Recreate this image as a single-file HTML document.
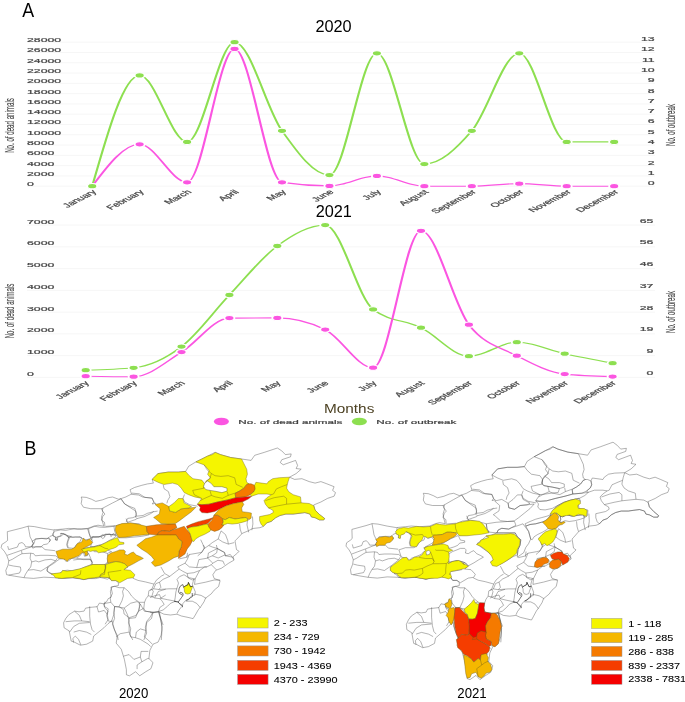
<!DOCTYPE html>
<html><head><meta charset="utf-8"><title>Figure</title>
<style>
html,body{margin:0;padding:0;background:#fff}
svg{display:block}
svg text{font-family:"Liberation Sans",sans-serif}
</style></head><body>
<svg width="685" height="702" viewBox="0 0 685 702">
<rect width="685" height="702" fill="#fff"/>
<line x1="27.0" y1="186.20" x2="655.0" y2="186.20" stroke="#f6f6f6" stroke-width="1"/>
<text transform="translate(27.00,186.10) scale(2.200,1)" font-size="5.60" fill="#4a4a4a" text-anchor="start" stroke="#4a4a4a" stroke-width="0.2">0</text>
<text transform="translate(654.70,185.20) scale(2.200,1)" font-size="5.60" fill="#4a4a4a" text-anchor="end" stroke="#4a4a4a" stroke-width="0.2">0</text>
<line x1="27.0" y1="175.91" x2="655.0" y2="175.91" stroke="#f6f6f6" stroke-width="1"/>
<text transform="translate(27.00,175.81) scale(2.200,1)" font-size="5.60" fill="#4a4a4a" text-anchor="start" stroke="#4a4a4a" stroke-width="0.2">2000</text>
<text transform="translate(654.70,174.91) scale(2.200,1)" font-size="5.60" fill="#4a4a4a" text-anchor="end" stroke="#4a4a4a" stroke-width="0.2">1</text>
<line x1="27.0" y1="165.63" x2="655.0" y2="165.63" stroke="#f6f6f6" stroke-width="1"/>
<text transform="translate(27.00,165.53) scale(2.200,1)" font-size="5.60" fill="#4a4a4a" text-anchor="start" stroke="#4a4a4a" stroke-width="0.2">4000</text>
<text transform="translate(654.70,164.63) scale(2.200,1)" font-size="5.60" fill="#4a4a4a" text-anchor="end" stroke="#4a4a4a" stroke-width="0.2">2</text>
<line x1="27.0" y1="155.34" x2="655.0" y2="155.34" stroke="#f6f6f6" stroke-width="1"/>
<text transform="translate(27.00,155.24) scale(2.200,1)" font-size="5.60" fill="#4a4a4a" text-anchor="start" stroke="#4a4a4a" stroke-width="0.2">6000</text>
<text transform="translate(654.70,154.34) scale(2.200,1)" font-size="5.60" fill="#4a4a4a" text-anchor="end" stroke="#4a4a4a" stroke-width="0.2">3</text>
<line x1="27.0" y1="145.06" x2="655.0" y2="145.06" stroke="#f6f6f6" stroke-width="1"/>
<text transform="translate(27.00,144.96) scale(2.200,1)" font-size="5.60" fill="#4a4a4a" text-anchor="start" stroke="#4a4a4a" stroke-width="0.2">8000</text>
<text transform="translate(654.70,144.06) scale(2.200,1)" font-size="5.60" fill="#4a4a4a" text-anchor="end" stroke="#4a4a4a" stroke-width="0.2">4</text>
<line x1="27.0" y1="134.77" x2="655.0" y2="134.77" stroke="#f6f6f6" stroke-width="1"/>
<text transform="translate(27.00,134.67) scale(2.200,1)" font-size="5.60" fill="#4a4a4a" text-anchor="start" stroke="#4a4a4a" stroke-width="0.2">10000</text>
<text transform="translate(654.70,133.77) scale(2.200,1)" font-size="5.60" fill="#4a4a4a" text-anchor="end" stroke="#4a4a4a" stroke-width="0.2">5</text>
<line x1="27.0" y1="124.49" x2="655.0" y2="124.49" stroke="#f6f6f6" stroke-width="1"/>
<text transform="translate(27.00,124.39) scale(2.200,1)" font-size="5.60" fill="#4a4a4a" text-anchor="start" stroke="#4a4a4a" stroke-width="0.2">12000</text>
<text transform="translate(654.70,123.49) scale(2.200,1)" font-size="5.60" fill="#4a4a4a" text-anchor="end" stroke="#4a4a4a" stroke-width="0.2">6</text>
<line x1="27.0" y1="114.20" x2="655.0" y2="114.20" stroke="#f6f6f6" stroke-width="1"/>
<text transform="translate(27.00,114.10) scale(2.200,1)" font-size="5.60" fill="#4a4a4a" text-anchor="start" stroke="#4a4a4a" stroke-width="0.2">14000</text>
<text transform="translate(654.70,113.20) scale(2.200,1)" font-size="5.60" fill="#4a4a4a" text-anchor="end" stroke="#4a4a4a" stroke-width="0.2">7</text>
<line x1="27.0" y1="103.91" x2="655.0" y2="103.91" stroke="#f6f6f6" stroke-width="1"/>
<text transform="translate(27.00,103.81) scale(2.200,1)" font-size="5.60" fill="#4a4a4a" text-anchor="start" stroke="#4a4a4a" stroke-width="0.2">16000</text>
<text transform="translate(654.70,102.91) scale(2.200,1)" font-size="5.60" fill="#4a4a4a" text-anchor="end" stroke="#4a4a4a" stroke-width="0.2">7</text>
<line x1="27.0" y1="93.63" x2="655.0" y2="93.63" stroke="#f6f6f6" stroke-width="1"/>
<text transform="translate(27.00,93.53) scale(2.200,1)" font-size="5.60" fill="#4a4a4a" text-anchor="start" stroke="#4a4a4a" stroke-width="0.2">18000</text>
<text transform="translate(654.70,92.63) scale(2.200,1)" font-size="5.60" fill="#4a4a4a" text-anchor="end" stroke="#4a4a4a" stroke-width="0.2">8</text>
<line x1="27.0" y1="83.34" x2="655.0" y2="83.34" stroke="#f6f6f6" stroke-width="1"/>
<text transform="translate(27.00,83.24) scale(2.200,1)" font-size="5.60" fill="#4a4a4a" text-anchor="start" stroke="#4a4a4a" stroke-width="0.2">20000</text>
<text transform="translate(654.70,82.34) scale(2.200,1)" font-size="5.60" fill="#4a4a4a" text-anchor="end" stroke="#4a4a4a" stroke-width="0.2">9</text>
<line x1="27.0" y1="73.06" x2="655.0" y2="73.06" stroke="#f6f6f6" stroke-width="1"/>
<text transform="translate(27.00,72.96) scale(2.200,1)" font-size="5.60" fill="#4a4a4a" text-anchor="start" stroke="#4a4a4a" stroke-width="0.2">22000</text>
<text transform="translate(654.70,72.06) scale(2.200,1)" font-size="5.60" fill="#4a4a4a" text-anchor="end" stroke="#4a4a4a" stroke-width="0.2">10</text>
<line x1="27.0" y1="62.77" x2="655.0" y2="62.77" stroke="#f6f6f6" stroke-width="1"/>
<text transform="translate(27.00,62.67) scale(2.200,1)" font-size="5.60" fill="#4a4a4a" text-anchor="start" stroke="#4a4a4a" stroke-width="0.2">24000</text>
<text transform="translate(654.70,61.77) scale(2.200,1)" font-size="5.60" fill="#4a4a4a" text-anchor="end" stroke="#4a4a4a" stroke-width="0.2">11</text>
<line x1="27.0" y1="52.49" x2="655.0" y2="52.49" stroke="#f6f6f6" stroke-width="1"/>
<text transform="translate(27.00,52.39) scale(2.200,1)" font-size="5.60" fill="#4a4a4a" text-anchor="start" stroke="#4a4a4a" stroke-width="0.2">26000</text>
<text transform="translate(654.70,51.49) scale(2.200,1)" font-size="5.60" fill="#4a4a4a" text-anchor="end" stroke="#4a4a4a" stroke-width="0.2">12</text>
<line x1="27.0" y1="42.20" x2="655.0" y2="42.20" stroke="#f6f6f6" stroke-width="1"/>
<text transform="translate(27.00,42.10) scale(2.200,1)" font-size="5.60" fill="#4a4a4a" text-anchor="start" stroke="#4a4a4a" stroke-width="0.2">28000</text>
<text transform="translate(654.70,41.20) scale(2.200,1)" font-size="5.60" fill="#4a4a4a" text-anchor="end" stroke="#4a4a4a" stroke-width="0.2">13</text>
<g transform="scale(1.900,1)">
<path d="M48.53,186.20C56.85,130.82 65.18,75.43 73.50,75.43C81.82,75.43 90.15,141.89 98.47,141.89C106.80,141.89 115.12,42.20 123.45,42.20C131.77,42.20 140.10,108.66 148.42,130.82C156.75,152.97 165.07,175.12 173.39,175.12C181.72,175.12 190.04,53.28 198.37,53.28C206.69,53.28 215.02,164.05 223.34,164.05C231.67,164.05 239.99,149.28 248.32,130.82C256.64,112.35 264.96,53.28 273.29,53.28C281.61,53.28 289.94,141.89 298.26,141.89C306.59,141.89 314.91,141.89 323.24,141.89" fill="none" stroke="#8ddf50" stroke-width="1.15"/>
<path d="M48.53,186.20C56.85,165.24 65.18,144.29 73.50,144.29C81.82,144.29 90.15,182.34 98.47,182.34C106.80,182.34 115.12,48.89 123.45,48.89C131.77,48.89 140.10,179.98 148.42,182.34C156.75,184.71 165.07,185.89 173.39,185.89C181.72,185.89 190.04,175.91 198.37,175.91C206.69,175.91 215.02,186.20 223.34,186.20C231.67,186.20 239.99,186.20 248.32,186.20C256.64,186.20 264.96,183.63 273.29,183.63C281.61,183.63 289.94,186.20 298.26,186.20C306.59,186.20 314.91,186.20 323.24,186.20" fill="none" stroke="#fb55e1" stroke-width="1.15"/>
<circle cx="48.53" cy="186.20" r="2.65" fill="#fb55e1" stroke="#fff" stroke-width="1"/>
<circle cx="73.50" cy="144.29" r="2.65" fill="#fb55e1" stroke="#fff" stroke-width="1"/>
<circle cx="98.47" cy="182.34" r="2.65" fill="#fb55e1" stroke="#fff" stroke-width="1"/>
<circle cx="123.45" cy="48.89" r="2.65" fill="#fb55e1" stroke="#fff" stroke-width="1"/>
<circle cx="148.42" cy="182.34" r="2.65" fill="#fb55e1" stroke="#fff" stroke-width="1"/>
<circle cx="173.39" cy="185.89" r="2.65" fill="#fb55e1" stroke="#fff" stroke-width="1"/>
<circle cx="198.37" cy="175.91" r="2.65" fill="#fb55e1" stroke="#fff" stroke-width="1"/>
<circle cx="223.34" cy="186.20" r="2.65" fill="#fb55e1" stroke="#fff" stroke-width="1"/>
<circle cx="248.32" cy="186.20" r="2.65" fill="#fb55e1" stroke="#fff" stroke-width="1"/>
<circle cx="273.29" cy="183.63" r="2.65" fill="#fb55e1" stroke="#fff" stroke-width="1"/>
<circle cx="298.26" cy="186.20" r="2.65" fill="#fb55e1" stroke="#fff" stroke-width="1"/>
<circle cx="323.24" cy="186.20" r="2.65" fill="#fb55e1" stroke="#fff" stroke-width="1"/>
<circle cx="48.53" cy="186.20" r="2.65" fill="#8ddf50" stroke="#fff" stroke-width="1"/>
<circle cx="73.50" cy="75.43" r="2.65" fill="#8ddf50" stroke="#fff" stroke-width="1"/>
<circle cx="98.47" cy="141.89" r="2.65" fill="#8ddf50" stroke="#fff" stroke-width="1"/>
<circle cx="123.45" cy="42.20" r="2.65" fill="#8ddf50" stroke="#fff" stroke-width="1"/>
<circle cx="148.42" cy="130.82" r="2.65" fill="#8ddf50" stroke="#fff" stroke-width="1"/>
<circle cx="173.39" cy="175.12" r="2.65" fill="#8ddf50" stroke="#fff" stroke-width="1"/>
<circle cx="198.37" cy="53.28" r="2.65" fill="#8ddf50" stroke="#fff" stroke-width="1"/>
<circle cx="223.34" cy="164.05" r="2.65" fill="#8ddf50" stroke="#fff" stroke-width="1"/>
<circle cx="248.32" cy="130.82" r="2.65" fill="#8ddf50" stroke="#fff" stroke-width="1"/>
<circle cx="273.29" cy="53.28" r="2.65" fill="#8ddf50" stroke="#fff" stroke-width="1"/>
<circle cx="298.26" cy="141.89" r="2.65" fill="#8ddf50" stroke="#fff" stroke-width="1"/>
<circle cx="323.24" cy="141.89" r="2.65" fill="#8ddf50" stroke="#fff" stroke-width="1"/>
</g>
<text transform="translate(97.20,192.40) scale(1.900,1) rotate(-45)" font-size="6.20" fill="#4a4a4a" text-anchor="end" stroke="#4a4a4a" stroke-width="0.2">January</text>
<text transform="translate(144.65,192.40) scale(1.900,1) rotate(-45)" font-size="6.20" fill="#4a4a4a" text-anchor="end" stroke="#4a4a4a" stroke-width="0.2">February</text>
<text transform="translate(192.10,192.40) scale(1.900,1) rotate(-45)" font-size="6.20" fill="#4a4a4a" text-anchor="end" stroke="#4a4a4a" stroke-width="0.2">March</text>
<text transform="translate(239.55,192.40) scale(1.900,1) rotate(-45)" font-size="6.20" fill="#4a4a4a" text-anchor="end" stroke="#4a4a4a" stroke-width="0.2">April</text>
<text transform="translate(287.00,192.40) scale(1.900,1) rotate(-45)" font-size="6.20" fill="#4a4a4a" text-anchor="end" stroke="#4a4a4a" stroke-width="0.2">May</text>
<text transform="translate(334.45,192.40) scale(1.900,1) rotate(-45)" font-size="6.20" fill="#4a4a4a" text-anchor="end" stroke="#4a4a4a" stroke-width="0.2">June</text>
<text transform="translate(381.90,192.40) scale(1.900,1) rotate(-45)" font-size="6.20" fill="#4a4a4a" text-anchor="end" stroke="#4a4a4a" stroke-width="0.2">July</text>
<text transform="translate(429.35,192.40) scale(1.900,1) rotate(-45)" font-size="6.20" fill="#4a4a4a" text-anchor="end" stroke="#4a4a4a" stroke-width="0.2">August</text>
<text transform="translate(476.80,192.40) scale(1.900,1) rotate(-45)" font-size="6.20" fill="#4a4a4a" text-anchor="end" stroke="#4a4a4a" stroke-width="0.2">September</text>
<text transform="translate(524.25,192.40) scale(1.900,1) rotate(-45)" font-size="6.20" fill="#4a4a4a" text-anchor="end" stroke="#4a4a4a" stroke-width="0.2">October</text>
<text transform="translate(571.70,192.40) scale(1.900,1) rotate(-45)" font-size="6.20" fill="#4a4a4a" text-anchor="end" stroke="#4a4a4a" stroke-width="0.2">November</text>
<text transform="translate(619.15,192.40) scale(1.900,1) rotate(-45)" font-size="6.20" fill="#4a4a4a" text-anchor="end" stroke="#4a4a4a" stroke-width="0.2">December</text>
<line x1="27.0" y1="377.40" x2="655.0" y2="377.40" stroke="#f6f6f6" stroke-width="1"/>
<text transform="translate(27.00,375.90) scale(2.200,1)" font-size="5.60" fill="#4a4a4a" text-anchor="start" stroke="#4a4a4a" stroke-width="0.2">0</text>
<text transform="translate(653.40,375.00) scale(2.200,1)" font-size="5.60" fill="#4a4a4a" text-anchor="end" stroke="#4a4a4a" stroke-width="0.2">0</text>
<line x1="27.0" y1="355.64" x2="655.0" y2="355.64" stroke="#f6f6f6" stroke-width="1"/>
<text transform="translate(27.00,354.14) scale(2.200,1)" font-size="5.60" fill="#4a4a4a" text-anchor="start" stroke="#4a4a4a" stroke-width="0.2">1000</text>
<text transform="translate(653.40,353.24) scale(2.200,1)" font-size="5.60" fill="#4a4a4a" text-anchor="end" stroke="#4a4a4a" stroke-width="0.2">9</text>
<line x1="27.0" y1="333.89" x2="655.0" y2="333.89" stroke="#f6f6f6" stroke-width="1"/>
<text transform="translate(27.00,332.39) scale(2.200,1)" font-size="5.60" fill="#4a4a4a" text-anchor="start" stroke="#4a4a4a" stroke-width="0.2">2000</text>
<text transform="translate(653.40,331.49) scale(2.200,1)" font-size="5.60" fill="#4a4a4a" text-anchor="end" stroke="#4a4a4a" stroke-width="0.2">19</text>
<line x1="27.0" y1="312.13" x2="655.0" y2="312.13" stroke="#f6f6f6" stroke-width="1"/>
<text transform="translate(27.00,310.63) scale(2.200,1)" font-size="5.60" fill="#4a4a4a" text-anchor="start" stroke="#4a4a4a" stroke-width="0.2">3000</text>
<text transform="translate(653.40,309.73) scale(2.200,1)" font-size="5.60" fill="#4a4a4a" text-anchor="end" stroke="#4a4a4a" stroke-width="0.2">28</text>
<line x1="27.0" y1="290.37" x2="655.0" y2="290.37" stroke="#f6f6f6" stroke-width="1"/>
<text transform="translate(27.00,288.87) scale(2.200,1)" font-size="5.60" fill="#4a4a4a" text-anchor="start" stroke="#4a4a4a" stroke-width="0.2">4000</text>
<text transform="translate(653.40,287.97) scale(2.200,1)" font-size="5.60" fill="#4a4a4a" text-anchor="end" stroke="#4a4a4a" stroke-width="0.2">37</text>
<line x1="27.0" y1="268.61" x2="655.0" y2="268.61" stroke="#f6f6f6" stroke-width="1"/>
<text transform="translate(27.00,267.11) scale(2.200,1)" font-size="5.60" fill="#4a4a4a" text-anchor="start" stroke="#4a4a4a" stroke-width="0.2">5000</text>
<text transform="translate(653.40,266.21) scale(2.200,1)" font-size="5.60" fill="#4a4a4a" text-anchor="end" stroke="#4a4a4a" stroke-width="0.2">46</text>
<line x1="27.0" y1="246.86" x2="655.0" y2="246.86" stroke="#f6f6f6" stroke-width="1"/>
<text transform="translate(27.00,245.36) scale(2.200,1)" font-size="5.60" fill="#4a4a4a" text-anchor="start" stroke="#4a4a4a" stroke-width="0.2">6000</text>
<text transform="translate(653.40,244.46) scale(2.200,1)" font-size="5.60" fill="#4a4a4a" text-anchor="end" stroke="#4a4a4a" stroke-width="0.2">56</text>
<line x1="27.0" y1="225.10" x2="655.0" y2="225.10" stroke="#f6f6f6" stroke-width="1"/>
<text transform="translate(27.00,223.60) scale(2.200,1)" font-size="5.60" fill="#4a4a4a" text-anchor="start" stroke="#4a4a4a" stroke-width="0.2">7000</text>
<text transform="translate(653.40,222.70) scale(2.200,1)" font-size="5.60" fill="#4a4a4a" text-anchor="end" stroke="#4a4a4a" stroke-width="0.2">65</text>
<g transform="scale(1.900,1)">
<path d="M45.11,370.20C53.51,369.80 61.91,369.40 70.32,367.80C78.72,366.20 87.12,358.73 95.53,346.60C103.93,334.47 112.33,311.77 120.74,295.00C129.14,278.23 137.54,257.65 145.95,246.00C154.35,234.35 162.75,225.10 171.16,225.10C179.56,225.10 187.96,297.20 196.37,309.40C204.77,321.60 213.18,319.90 221.58,327.70C229.98,335.50 238.39,356.20 246.79,356.20C255.19,356.20 263.60,342.20 272.00,342.20C280.40,342.20 288.81,350.20 297.21,353.70C305.61,357.20 314.02,360.20 322.42,363.20" fill="none" stroke="#8ddf50" stroke-width="1.15"/>
<path d="M45.11,376.20C53.51,376.45 61.91,376.70 70.32,376.70C78.72,376.70 87.12,361.87 95.53,352.10C103.93,342.33 112.33,318.23 120.74,318.10C129.14,317.97 137.54,317.90 145.95,317.90C154.35,317.90 162.75,321.80 171.16,329.60C179.56,337.40 187.96,367.70 196.37,367.70C204.77,367.70 213.18,230.80 221.58,230.80C229.98,230.80 238.39,304.03 246.79,324.70C255.19,345.37 263.60,347.47 272.00,355.70C280.40,363.93 288.81,372.43 297.21,374.10C305.61,375.77 314.02,376.18 322.42,376.60" fill="none" stroke="#fb55e1" stroke-width="1.15"/>
<circle cx="45.11" cy="376.20" r="2.65" fill="#fb55e1" stroke="#fff" stroke-width="1"/>
<circle cx="70.32" cy="376.70" r="2.65" fill="#fb55e1" stroke="#fff" stroke-width="1"/>
<circle cx="95.53" cy="352.10" r="2.65" fill="#fb55e1" stroke="#fff" stroke-width="1"/>
<circle cx="120.74" cy="318.10" r="2.65" fill="#fb55e1" stroke="#fff" stroke-width="1"/>
<circle cx="145.95" cy="317.90" r="2.65" fill="#fb55e1" stroke="#fff" stroke-width="1"/>
<circle cx="171.16" cy="329.60" r="2.65" fill="#fb55e1" stroke="#fff" stroke-width="1"/>
<circle cx="196.37" cy="367.70" r="2.65" fill="#fb55e1" stroke="#fff" stroke-width="1"/>
<circle cx="221.58" cy="230.80" r="2.65" fill="#fb55e1" stroke="#fff" stroke-width="1"/>
<circle cx="246.79" cy="324.70" r="2.65" fill="#fb55e1" stroke="#fff" stroke-width="1"/>
<circle cx="272.00" cy="355.70" r="2.65" fill="#fb55e1" stroke="#fff" stroke-width="1"/>
<circle cx="297.21" cy="374.10" r="2.65" fill="#fb55e1" stroke="#fff" stroke-width="1"/>
<circle cx="322.42" cy="376.60" r="2.65" fill="#fb55e1" stroke="#fff" stroke-width="1"/>
<circle cx="45.11" cy="370.20" r="2.65" fill="#8ddf50" stroke="#fff" stroke-width="1"/>
<circle cx="70.32" cy="367.80" r="2.65" fill="#8ddf50" stroke="#fff" stroke-width="1"/>
<circle cx="95.53" cy="346.60" r="2.65" fill="#8ddf50" stroke="#fff" stroke-width="1"/>
<circle cx="120.74" cy="295.00" r="2.65" fill="#8ddf50" stroke="#fff" stroke-width="1"/>
<circle cx="145.95" cy="246.00" r="2.65" fill="#8ddf50" stroke="#fff" stroke-width="1"/>
<circle cx="171.16" cy="225.10" r="2.65" fill="#8ddf50" stroke="#fff" stroke-width="1"/>
<circle cx="196.37" cy="309.40" r="2.65" fill="#8ddf50" stroke="#fff" stroke-width="1"/>
<circle cx="221.58" cy="327.70" r="2.65" fill="#8ddf50" stroke="#fff" stroke-width="1"/>
<circle cx="246.79" cy="356.20" r="2.65" fill="#8ddf50" stroke="#fff" stroke-width="1"/>
<circle cx="272.00" cy="342.20" r="2.65" fill="#8ddf50" stroke="#fff" stroke-width="1"/>
<circle cx="297.21" cy="353.70" r="2.65" fill="#8ddf50" stroke="#fff" stroke-width="1"/>
<circle cx="322.42" cy="363.20" r="2.65" fill="#8ddf50" stroke="#fff" stroke-width="1"/>
</g>
<text transform="translate(89.90,383.60) scale(1.900,1) rotate(-45)" font-size="6.20" fill="#4a4a4a" text-anchor="end" stroke="#4a4a4a" stroke-width="0.2">January</text>
<text transform="translate(137.80,383.60) scale(1.900,1) rotate(-45)" font-size="6.20" fill="#4a4a4a" text-anchor="end" stroke="#4a4a4a" stroke-width="0.2">February</text>
<text transform="translate(185.70,383.60) scale(1.900,1) rotate(-45)" font-size="6.20" fill="#4a4a4a" text-anchor="end" stroke="#4a4a4a" stroke-width="0.2">March</text>
<text transform="translate(233.60,383.60) scale(1.900,1) rotate(-45)" font-size="6.20" fill="#4a4a4a" text-anchor="end" stroke="#4a4a4a" stroke-width="0.2">April</text>
<text transform="translate(281.50,383.60) scale(1.900,1) rotate(-45)" font-size="6.20" fill="#4a4a4a" text-anchor="end" stroke="#4a4a4a" stroke-width="0.2">May</text>
<text transform="translate(329.40,383.60) scale(1.900,1) rotate(-45)" font-size="6.20" fill="#4a4a4a" text-anchor="end" stroke="#4a4a4a" stroke-width="0.2">June</text>
<text transform="translate(377.30,383.60) scale(1.900,1) rotate(-45)" font-size="6.20" fill="#4a4a4a" text-anchor="end" stroke="#4a4a4a" stroke-width="0.2">July</text>
<text transform="translate(425.20,383.60) scale(1.900,1) rotate(-45)" font-size="6.20" fill="#4a4a4a" text-anchor="end" stroke="#4a4a4a" stroke-width="0.2">August</text>
<text transform="translate(473.10,383.60) scale(1.900,1) rotate(-45)" font-size="6.20" fill="#4a4a4a" text-anchor="end" stroke="#4a4a4a" stroke-width="0.2">September</text>
<text transform="translate(521.00,383.60) scale(1.900,1) rotate(-45)" font-size="6.20" fill="#4a4a4a" text-anchor="end" stroke="#4a4a4a" stroke-width="0.2">October</text>
<text transform="translate(568.90,383.60) scale(1.900,1) rotate(-45)" font-size="6.20" fill="#4a4a4a" text-anchor="end" stroke="#4a4a4a" stroke-width="0.2">November</text>
<text transform="translate(616.80,383.60) scale(1.900,1) rotate(-45)" font-size="6.20" fill="#4a4a4a" text-anchor="end" stroke="#4a4a4a" stroke-width="0.2">December</text>
<text transform="translate(333.50,32.20)" font-size="16.30" fill="#000" text-anchor="middle">2020</text>
<text transform="translate(333.80,217.20)" font-size="16.30" fill="#000" text-anchor="middle">2021</text>
<text transform="translate(22.20,17.40) scale(0.910,1)" font-size="19.60" fill="#000" text-anchor="start">A</text>
<text transform="translate(24.60,455.00) scale(0.880,1)" font-size="20.30" fill="#000" text-anchor="start">B</text>
<text transform="translate(349.10,413.00) scale(1.140,1)" font-size="13.50" fill="#4a3f20" text-anchor="middle">Months</text>
<text transform="translate(13.60,125.50) rotate(-90) scale(0.5,1)" font-size="12.3" fill="#4a4a4a" stroke="#4a4a4a" stroke-width="0.15" text-anchor="middle">No. of dead animals</text>
<text transform="translate(13.60,311.00) rotate(-90) scale(0.5,1)" font-size="12.3" fill="#4a4a4a" stroke="#4a4a4a" stroke-width="0.15" text-anchor="middle">No. of dead animals</text>
<text transform="translate(675.20,125.00) rotate(-90) scale(0.5,1)" font-size="12.3" fill="#4a4a4a" stroke="#4a4a4a" stroke-width="0.15" text-anchor="middle">No. of outbreak</text>
<text transform="translate(674.80,312.00) rotate(-90) scale(0.5,1)" font-size="12.3" fill="#4a4a4a" stroke="#4a4a4a" stroke-width="0.15" text-anchor="middle">No. of outbreak</text>
<ellipse cx="221.4" cy="421.5" rx="7.5" ry="3.75" fill="#fb55e1"/>
<ellipse cx="359.4" cy="421.5" rx="7.5" ry="3.75" fill="#8ddf50"/>
<text transform="translate(238.20,423.90) scale(1.900,1)" font-size="6.17" fill="#3a3a3a" text-anchor="start" stroke="#4a4a4a" stroke-width="0.2">No. of dead animals</text>
<text transform="translate(376.20,423.90) scale(1.900,1)" font-size="6.17" fill="#3a3a3a" text-anchor="start" stroke="#4a4a4a" stroke-width="0.2">No. of outbreak</text>
<g id="map2020">
<path d="M7.3,531.7L21.9,528.0L28.5,526.1L34.3,526.6L43.8,528.5L53.3,529.9L62.8,529.1L68.8,528.4L77.5,529.1L87.7,528.4L93.6,526.2L98.0,525.2L103.8,526.2L102.3,521.1L101.6,516.7L103.1,512.3L101.6,508.7L90.7,508.7L83.4,507.2L81.2,503.6L81.9,499.2L81.2,497.0L86.3,497.4L91.4,499.2L95.8,501.4L102.3,499.9L108.2,497.7L112.6,497.0L118.4,499.2L121.3,498.5L125.7,497.0L131.5,494.1L130.1,489.7L134.5,487.5L141.8,485.3L147.6,483.9L153.4,483.1L152.1,479.4L158.0,473.6L168.2,472.1L178.4,472.1L185.7,471.4L188.6,466.3L195.9,461.9L201.8,459.0L207.6,456.1L214.9,452.4L215.3,452.4L220.4,454.6L230.7,457.5L241.6,459.0L251.1,460.4L254.7,455.3L264.2,452.4L277.4,448.0L281.8,450.9L285.4,454.6L291.2,453.9L290.5,456.8L281.8,459.7L280.3,462.6L283.2,464.8L295.6,460.4L297.6,465.5L296.1,468.5L301.2,469.2L296.1,473.6L289.5,477.2L294.6,479.4L301.9,478.7L309.2,481.6L315.1,483.1L320.9,481.6L326.8,483.8L334.1,486.7L332.6,490.4L335.5,492.6L334.1,496.2L327.5,498.4L320.9,502.0L313.6,505.0L315.1,510.1L319.5,514.5L324.6,518.5L323.8,519.9L319.5,519.9L315.1,517.7L311.4,517.0L310.0,514.1L304.9,512.6L299.0,513.4L293.2,514.1L285.9,514.1L280.0,515.5L275.7,517.7L271.3,521.4L266.9,522.8L263.2,526.5L259.9,527.7L252.6,528.5L248.2,530.9L242.3,533.3L236.5,539.4L235.0,540.9L236.5,549.6L239.1,551.4L237.6,552.9L233.2,556.6L233.9,560.2L228.8,563.1L224.5,566.1L221.5,568.2L215.7,570.4L212.8,574.8L214.2,578.5L220.1,580.7L218.6,586.5L214.2,590.1L211.3,593.8L205.5,598.2L204.0,601.8L201.1,606.2L198.2,609.9L195.3,615.0L193.1,618.6L188.0,617.4L181.4,616.0L177.0,614.2L170.4,615.0L163.9,614.2L159.5,612.0L160.1,616.6L162.2,626.8L161.2,635.0L158.1,642.1L153.0,644.2L149.9,650.3L148.9,658.5L153.0,662.6L150.9,668.7L145.8,671.7L139.7,675.8L135.6,671.7L129.5,675.8L126.4,674.8L126.4,669.7L124.4,659.5L121.3,649.3L116.2,643.1L117.2,637.0L114.2,628.8L112.1,620.7L108.0,623.7L103.9,627.8L98.8,631.9L93.7,636.0L92.7,641.1L86.6,644.2L80.4,645.2L74.3,642.1L71.2,641.1L69.2,630.9L64.1,627.8L63.6,622.8L65.8,618.4L68.8,614.7L74.6,611.1L79.0,611.8L84.1,611.1L85.5,608.2L89.9,607.4L97.2,606.7L99.4,603.1L103.8,603.8L106.7,601.6L108.2,598.7L111.1,597.2L110.4,591.4L111.8,587.0L118.4,585.5L118.4,582.6L115.9,580.6L111.5,580.6L109.3,577.7L99.9,576.9L94.7,577.7L88.2,578.4L83.8,579.6L79.4,578.4L73.0,577.7L62.8,578.4L54.7,577.7L43.8,577.2L33.6,578.4L24.1,577.7L14.6,576.2L6.6,574.7L5.8,570.4L8.0,565.3L8.8,560.9L6.6,555.0L4.4,551.4L1.2,547.7L1.8,544.5L5.8,541.9L7.6,540.4Z" fill="#fff" stroke="#404040" stroke-width="0.4" stroke-linejoin="round"/>
<path d="M32.0,541.2L35.8,539.1L41.9,538.4L46.4,539.1L48.7,537.7L50.2,539.8L49.4,541.9L47.2,544.0L43.4,544.7L41.1,546.8L35.8,546.8L32.8,548.2L32.0,545.4L33.6,543.3Z" fill="none" stroke="#404040" stroke-width="0.4" stroke-linejoin="round"/>
<path d="M52.4,533.8L55.4,531.0L60.8,529.9L65.7,530.4L74.1,528.7L81.4,529.3L88.6,528.7L94.7,526.3L99.5,527.1L104.3,527.4L114.0,526.3L118.8,524.8L130.0,523.1L139.1,523.8L142.9,526.6L146.6,531.5L148.9,535.0L141.3,536.4L133.8,537.1L126.2,537.8L118.7,537.8L116.4,535.5L114.6,534.9L109.2,534.3L105.6,534.3L100.7,536.6L94.7,537.1L91.7,537.1L89.8,538.8L85.6,540.0L83.8,538.8L81.4,538.3L80.2,541.1L78.4,543.3L76.0,545.0L74.1,548.4L68.1,547.8L67.5,544.4L68.1,541.1L69.3,538.3L67.5,535.5L63.3,533.8L61.5,536.0L57.8,537.1L57.2,540.5L55.4,540.0L56.0,537.1L53.6,536.6Z" fill="none" stroke="#404040" stroke-width="0.4" stroke-linejoin="round"/>
<path d="M91.7,537.1L94.7,537.1L100.7,536.6L105.6,534.3L109.2,534.3L114.6,534.9L115.8,536.6L112.8,538.8L109.2,540.5L105.6,542.8L101.9,544.4L97.1,545.6L93.5,546.7L90.5,546.7L91.7,543.3L92.3,540.5L91.1,538.8Z" fill="none" stroke="#404040" stroke-width="0.4" stroke-linejoin="round"/>
<path d="M47.0,568.5L50.0,565.7L53.6,563.5L56.6,561.2L59.6,559.0L63.9,558.4L65.7,561.2L68.7,560.7L71.7,558.4L76.6,557.9L79.6,556.2L81.4,554.0L83.2,551.7L82.0,549.5L86.2,547.8L93.5,546.7L97.1,546.1L101.9,545.6L106.8,547.2L107.4,550.0L111.6,551.7L107.4,553.4L108.0,557.9L107.4,562.4L106.8,564.6L111.6,562.4L117.6,561.5L120.7,562.9L123.7,565.7L121.7,563.7L127.8,567.2L124.0,569.3L117.2,570.7L109.6,572.1L108.1,574.9L109.2,574.1L110.4,577.5L107.4,579.2L103.1,578.1L100.1,577.5L95.9,578.6L89.8,578.6L83.8,579.2L77.8,578.6L72.9,577.5L65.7,578.1L58.4,578.1L55.4,576.4L53.6,574.1L49.4,573.0L47.0,570.8Z" fill="none" stroke="#404040" stroke-width="0.4" stroke-linejoin="round"/>
<path d="M83.8,552.8L86.8,551.7L88.6,553.4L87.4,555.6L84.4,556.2Z" fill="none" stroke="#404040" stroke-width="0.4" stroke-linejoin="round"/>
<path d="M88.6,528.7L89.2,533.2L90.5,537.1" fill="none" stroke="#404040" stroke-width="0.4" stroke-linejoin="round"/>
<path d="M114.0,526.3L114.6,531.0L116.4,535.5" fill="none" stroke="#404040" stroke-width="0.4" stroke-linejoin="round"/>
<path d="M67.5,535.5L72.9,537.1L80.2,536.6L81.4,538.3" fill="none" stroke="#404040" stroke-width="0.4" stroke-linejoin="round"/>
<path d="M53.6,574.1L59.6,573.6L62.7,570.8L67.5,570.2L71.7,570.8L80.2,569.1L80.8,573.6L77.8,575.8L72.9,577.5" fill="none" stroke="#404040" stroke-width="0.4" stroke-linejoin="round"/>
<path d="M80.2,569.1L85.0,566.9L91.1,564.6L92.3,562.4L90.5,559.6L83.2,559.6L76.6,558.4" fill="none" stroke="#404040" stroke-width="0.4" stroke-linejoin="round"/>
<path d="M91.1,564.6L98.3,564.6L104.9,564.4L107.4,562.4" fill="none" stroke="#404040" stroke-width="0.4" stroke-linejoin="round"/>
<path d="M104.9,564.4L104.3,570.2L104.3,574.1L100.1,577.5" fill="none" stroke="#404040" stroke-width="0.4" stroke-linejoin="round"/>
<path d="M92.3,562.4L89.8,556.2L88.6,553.4" fill="none" stroke="#404040" stroke-width="0.4" stroke-linejoin="round"/>
<path d="M93.5,551.2L94.7,551.7L101.9,551.7L107.4,553.4" fill="none" stroke="#404040" stroke-width="0.4" stroke-linejoin="round"/>
<path d="M28.1,526.1L29.1,531.2L30.1,536.9L31.7,539.9L33.2,543.0L32.7,545.5L31.2,546.8" fill="none" stroke="#404040" stroke-width="0.4" stroke-linejoin="round"/>
<path d="M7.7,546.1L8.7,549.6L17.4,547.1L18.9,543.5L22.0,542.5L24.5,544.5L25.5,546.8L31.2,546.8L34.2,543.0L35.3,538.9L40.9,538.4L48.0,538.4L50.1,536.3L53.1,535.3L54.2,529.7" fill="none" stroke="#404040" stroke-width="0.4" stroke-linejoin="round"/>
<path d="M53.1,535.3L55.7,537.4L55.2,539.4L57.2,539.9L56.7,536.9L60.8,535.8L61.3,533.3L65.4,534.3L68.5,536.9L71.5,536.3" fill="none" stroke="#404040" stroke-width="0.4" stroke-linejoin="round"/>
<path d="M31.2,546.8L41.9,546.8L45.0,549.6L55.2,550.7" fill="none" stroke="#404040" stroke-width="0.4" stroke-linejoin="round"/>
<path d="M49.0,542.0L50.6,539.9L48.0,538.4" fill="none" stroke="#404040" stroke-width="0.4" stroke-linejoin="round"/>
<path d="M7.2,555.3L13.3,553.2L22.0,550.1L31.2,546.8" fill="none" stroke="#404040" stroke-width="0.4" stroke-linejoin="round"/>
<path d="M8.7,560.9L12.3,559.3L18.9,555.3L22.0,553.7L30.7,553.2L33.7,553.7L35.3,555.8L40.9,555.3L48.0,555.3L55.7,555.8L58.2,557.8" fill="none" stroke="#404040" stroke-width="0.4" stroke-linejoin="round"/>
<path d="M21.5,550.7L22.0,553.7" fill="none" stroke="#404040" stroke-width="0.4" stroke-linejoin="round"/>
<path d="M30.7,553.2L30.1,558.3L31.7,561.9L30.7,567.0L28.1,570.1L25.5,574.2L24.0,577.7" fill="none" stroke="#404040" stroke-width="0.4" stroke-linejoin="round"/>
<path d="M31.7,561.9L35.8,560.9L38.8,561.9L45.0,559.9L51.1,559.3L55.7,560.9L57.2,558.3" fill="none" stroke="#404040" stroke-width="0.4" stroke-linejoin="round"/>
<path d="M28.1,570.1L33.7,569.6L40.9,571.1L45.0,568.5L48.0,566.5L55.7,560.9" fill="none" stroke="#404040" stroke-width="0.4" stroke-linejoin="round"/>
<path d="M48.0,566.5L47.0,571.1L51.1,573.6" fill="none" stroke="#404040" stroke-width="0.4" stroke-linejoin="round"/>
<path d="M8.7,565.0L13.3,566.0L20.4,567.0L20.9,570.1L19.4,573.1L13.3,574.2L8.7,575.2" fill="none" stroke="#404040" stroke-width="0.4" stroke-linejoin="round"/>
<path d="M105.0,526.9L104.5,522.3L101.4,520.2L102.9,516.1L105.0,514.1L102.4,511.0L102.9,508.0" fill="none" stroke="#404040" stroke-width="0.4" stroke-linejoin="round"/>
<path d="M87.6,528.9L89.1,533.5L90.7,538.1L91.7,539.6" fill="none" stroke="#404040" stroke-width="0.4" stroke-linejoin="round"/>
<path d="M60.0,533.5L62.6,533.5L65.6,535.0L68.7,537.6L67.7,540.7L66.6,544.7L67.7,547.8" fill="none" stroke="#404040" stroke-width="0.4" stroke-linejoin="round"/>
<path d="M68.7,537.6L75.3,537.1L82.0,537.6" fill="none" stroke="#404040" stroke-width="0.4" stroke-linejoin="round"/>
<path d="M91.7,539.6L92.7,536.6L98.8,537.1L102.9,534.5L105.0,536.6L102.9,538.6L100.9,537.1" fill="none" stroke="#404040" stroke-width="0.4" stroke-linejoin="round"/>
<path d="M105.0,536.6L105.0,535.0L110.1,534.0L111.1,536.6L113.1,533.5L116.2,535.0" fill="none" stroke="#404040" stroke-width="0.4" stroke-linejoin="round"/>
<path d="M73.3,560.1L80.4,559.0L90.1,559.0L91.7,562.1L92.7,564.7" fill="none" stroke="#404040" stroke-width="0.4" stroke-linejoin="round"/>
<path d="M121.1,498.7L112.3,503.1L101.4,508.9" fill="none" stroke="#404040" stroke-width="0.4" stroke-linejoin="round"/>
<path d="M121.1,498.7L124.7,503.8L129.9,507.4L135.7,511.1L136.4,516.2L132.8,517.7L127.7,518.4L126.2,521.3L128.4,522.8" fill="none" stroke="#404040" stroke-width="0.4" stroke-linejoin="round"/>
<path d="M105.8,526.4L115.3,525.7" fill="none" stroke="#404040" stroke-width="0.4" stroke-linejoin="round"/>
<path d="M136.4,516.2L143.0,515.5L147.4,513.3L153.2,511.8L157.6,511.1" fill="none" stroke="#404040" stroke-width="0.4" stroke-linejoin="round"/>
<path d="M131.3,494.3L138.6,495.0L143.0,497.2L151.8,498.0L153.9,502.3L156.1,503.8" fill="none" stroke="#404040" stroke-width="0.4" stroke-linejoin="round"/>
<path d="M131.9,493.1L139.2,493.8L145.0,497.4L152.3,498.2L153.8,501.8L152.3,504.0L155.3,503.3" fill="none" stroke="#404040" stroke-width="0.4" stroke-linejoin="round"/>
<path d="M120.9,498.9L124.6,504.0L129.0,506.2L134.8,508.4L136.3,513.5L135.5,517.2L137.0,518.6L145.0,516.4L150.9,513.5L153.8,511.3" fill="none" stroke="#404040" stroke-width="0.4" stroke-linejoin="round"/>
<path d="M163.3,485.0L164.0,488.7L168.4,491.6L169.9,496.7L167.7,500.4L166.9,503.3" fill="none" stroke="#404040" stroke-width="0.4" stroke-linejoin="round"/>
<path d="M184.5,494.5L183.0,498.2L184.5,501.8L189.6,504.7L197.6,506.2" fill="none" stroke="#404040" stroke-width="0.4" stroke-linejoin="round"/>
<path d="M126.1,518.6L127.5,522.3L136.3,519.3L137.0,518.6" fill="none" stroke="#404040" stroke-width="0.4" stroke-linejoin="round"/>
<path d="M200.7,539.7L202.8,544.1L204.3,548.5L201.4,552.8L197.7,555.8" fill="none" stroke="#404040" stroke-width="0.4" stroke-linejoin="round"/>
<path d="M221.1,530.9L219.6,534.6L218.2,539.0L212.3,542.6L208.7,545.5L206.5,547.0L204.3,548.5" fill="none" stroke="#404040" stroke-width="0.4" stroke-linejoin="round"/>
<path d="M221.1,530.9L225.5,534.6L227.7,540.4L228.4,544.1L234.2,542.6" fill="none" stroke="#404040" stroke-width="0.4" stroke-linejoin="round"/>
<path d="M218.2,539.0L222.6,541.9L228.4,544.1" fill="none" stroke="#404040" stroke-width="0.4" stroke-linejoin="round"/>
<path d="M217.4,548.5L216.7,552.8L212.3,555.8L207.2,558.0" fill="none" stroke="#404040" stroke-width="0.4" stroke-linejoin="round"/>
<path d="M217.4,548.5L212.3,547.0L208.7,545.5" fill="none" stroke="#404040" stroke-width="0.4" stroke-linejoin="round"/>
<path d="M217.4,548.5L224.7,552.8L225.5,555.8L232.8,557.2" fill="none" stroke="#404040" stroke-width="0.4" stroke-linejoin="round"/>
<path d="M212.3,555.8L218.2,558.0L224.7,555.0" fill="none" stroke="#404040" stroke-width="0.4" stroke-linejoin="round"/>
<path d="M187.5,552.8L186.8,558.0" fill="none" stroke="#404040" stroke-width="0.4" stroke-linejoin="round"/>
<path d="M132.8,578.2L138.0,580.4L145.3,581.9L154.0,584.1L156.2,580.4L161.3,576.1L164.2,574.6" fill="none" stroke="#404040" stroke-width="0.4" stroke-linejoin="round"/>
<path d="M154.0,584.1L151.8,589.2L148.9,590.7L148.2,595.8L151.8,596.5L153.3,591.4L151.8,589.2" fill="none" stroke="#404040" stroke-width="0.4" stroke-linejoin="round"/>
<path d="M148.2,595.8L146.0,598.7L144.5,602.3L139.4,602.3L135.0,599.4L131.4,595.8L128.5,591.4L124.1,587.7L122.6,591.4L123.4,595.8L121.9,600.9L119.0,606.7L123.4,609.6L124.1,614.0L129.2,617.7L135.8,615.5L138.7,611.1L139.4,606.7L139.4,602.3" fill="none" stroke="#404040" stroke-width="0.4" stroke-linejoin="round"/>
<path d="M110.9,587.0L114.6,586.3L119.0,587.7L124.1,587.7" fill="none" stroke="#404040" stroke-width="0.4" stroke-linejoin="round"/>
<path d="M110.9,587.0L112.4,593.6L110.2,598.0L110.9,602.3L106.6,603.1L103.6,603.8L105.1,608.2L108.0,611.1L106.6,615.5L108.0,619.9L105.1,624.2" fill="none" stroke="#404040" stroke-width="0.4" stroke-linejoin="round"/>
<path d="M110.9,602.3L114.6,606.7L119.0,606.7" fill="none" stroke="#404040" stroke-width="0.4" stroke-linejoin="round"/>
<path d="M114.6,606.7L113.9,612.6L114.6,618.4L112.4,624.2L114.6,630.1L117.5,635.9L118.2,640.0" fill="none" stroke="#404040" stroke-width="0.4" stroke-linejoin="round"/>
<path d="M144.5,602.3L143.8,608.2L145.3,611.1L152.6,612.6L158.4,611.8L159.9,607.4L164.2,604.5L162.0,600.9L159.9,598.7L154.7,598.0L151.8,596.5" fill="none" stroke="#404040" stroke-width="0.4" stroke-linejoin="round"/>
<path d="M158.4,611.8L159.9,616.2L161.3,622.8L162.0,630.1L161.3,640.0" fill="none" stroke="#404040" stroke-width="0.4" stroke-linejoin="round"/>
<path d="M152.6,612.6L150.4,616.9L146.7,621.3L145.3,627.2L146.7,633.0L143.8,640.0" fill="none" stroke="#404040" stroke-width="0.4" stroke-linejoin="round"/>
<path d="M129.2,617.7L128.5,622.8L130.7,628.6L129.9,634.5L132.8,640.0" fill="none" stroke="#404040" stroke-width="0.4" stroke-linejoin="round"/>
<path d="M138.7,611.1L143.8,608.2" fill="none" stroke="#404040" stroke-width="0.4" stroke-linejoin="round"/>
<path d="M159.9,598.7L165.7,595.0" fill="none" stroke="#404040" stroke-width="0.4" stroke-linejoin="round"/>
<path d="M154.7,598.0L158.4,591.4L165.7,589.2" fill="none" stroke="#404040" stroke-width="0.4" stroke-linejoin="round"/>
<path d="M89.7,606.4L89.7,616.1L90.5,624.1L92.1,629.7L94.5,632.1" fill="none" stroke="#404040" stroke-width="0.4" stroke-linejoin="round"/>
<path d="M65.6,621.7L74.5,620.9L81.7,620.9L89.7,621.7" fill="none" stroke="#404040" stroke-width="0.4" stroke-linejoin="round"/>
<path d="M74.5,611.2L79.3,615.3L81.7,620.9" fill="none" stroke="#404040" stroke-width="0.4" stroke-linejoin="round"/>
<path d="M69.6,632.1L73.7,626.5L79.3,623.3L89.7,622.5" fill="none" stroke="#404040" stroke-width="0.4" stroke-linejoin="round"/>
<path d="M73.7,632.1L79.3,630.5L86.5,632.1L91.3,634.5" fill="none" stroke="#404040" stroke-width="0.4" stroke-linejoin="round"/>
<path d="M73.7,642.6L72.8,638.5L75.3,636.1L78.5,639.3L80.9,645.0" fill="none" stroke="#404040" stroke-width="0.4" stroke-linejoin="round"/>
<path d="M96.9,606.4L98.5,612.0L104.2,610.4L107.4,614.5L108.2,620.9L111.4,621.7" fill="none" stroke="#404040" stroke-width="0.4" stroke-linejoin="round"/>
<path d="M105.0,601.6L104.2,606.4L108.2,608.8L107.4,614.5" fill="none" stroke="#404040" stroke-width="0.4" stroke-linejoin="round"/>
<path d="M114.6,606.4L113.8,614.5L111.4,621.7" fill="none" stroke="#404040" stroke-width="0.4" stroke-linejoin="round"/>
<path d="M114.6,606.4L124.2,608.0L127.4,614.5L129.1,620.9L129.1,631.3L130.7,636.9L135.5,637.7L140.3,639.3L148.3,644.2L150.7,646.6" fill="none" stroke="#404040" stroke-width="0.4" stroke-linejoin="round"/>
<path d="M116.2,636.9L120.2,633.7L129.1,632.1" fill="none" stroke="#404040" stroke-width="0.4" stroke-linejoin="round"/>
<path d="M124.2,608.0L130.7,603.2L137.1,601.6L140.3,604.0L138.7,610.4L135.5,617.7L129.1,618.5" fill="none" stroke="#404040" stroke-width="0.4" stroke-linejoin="round"/>
<path d="M140.3,604.0L144.3,611.2L153.1,612.0L159.6,612.0" fill="none" stroke="#404040" stroke-width="0.4" stroke-linejoin="round"/>
<path d="M153.1,612.0L151.5,618.5L146.7,622.5L145.9,630.5L144.3,636.9L148.3,640.1L152.3,644.2" fill="none" stroke="#404040" stroke-width="0.4" stroke-linejoin="round"/>
<path d="M135.5,637.7L136.3,632.1L140.3,628.9L145.9,630.5" fill="none" stroke="#404040" stroke-width="0.4" stroke-linejoin="round"/>
<path d="M123.4,656.2L129.1,654.6L133.9,659.4L140.3,657.0L141.9,661.8L137.1,665.0L137.1,669.1" fill="none" stroke="#404040" stroke-width="0.4" stroke-linejoin="round"/>
<path d="M140.3,657.0L141.1,651.4L148.3,651.4" fill="none" stroke="#404040" stroke-width="0.4" stroke-linejoin="round"/>
<path d="M141.9,661.8L147.5,658.6L149.1,658.6" fill="none" stroke="#404040" stroke-width="0.4" stroke-linejoin="round"/>
<path d="M177.0,579.5L179.6,576.6L184.0,574.7L186.9,576.6L189.1,577.7L194.2,578.8L193.1,581.7L192.4,584.6L193.8,588.2L195.3,591.9L194.9,595.2L192.0,595.5L190.2,597.4L188.4,599.2L185.4,600.7L182.9,603.6L182.2,606.5L180.7,605.0L178.1,602.1L174.5,601.4L175.2,597.7L175.9,591.9L177.4,586.8L178.5,583.1L177.0,579.5" fill="none" stroke="#404040" stroke-width="0.4" stroke-linejoin="round"/>
<path d="M179.2,558.9L185.8,557.4L189.4,554.5L198.2,553.0L201.8,552.3L204.7,547.2L203.3,545.0" fill="none" stroke="#404040" stroke-width="0.4" stroke-linejoin="round"/>
<path d="M189.4,554.5L187.2,559.6L185.0,563.2L189.4,566.9L196.7,567.6L198.9,559.6L207.7,558.1L212.8,563.2L211.3,564.7L206.9,566.9L196.7,567.6" fill="none" stroke="#404040" stroke-width="0.4" stroke-linejoin="round"/>
<path d="M160.9,566.9L164.6,573.5L169.7,576.4L176.3,571.3L179.2,569.1L177.7,566.9L185.0,563.2" fill="none" stroke="#404040" stroke-width="0.4" stroke-linejoin="round"/>
<path d="M179.2,569.1L182.8,571.3L187.2,573.5L193.8,572.7L199.6,570.5L204.7,566.9L206.9,566.9" fill="none" stroke="#404040" stroke-width="0.4" stroke-linejoin="round"/>
<path d="M211.3,564.7L216.4,569.8" fill="none" stroke="#404040" stroke-width="0.4" stroke-linejoin="round"/>
<path d="M207.7,558.1L208.4,553.0L212.8,550.8L217.2,548.6L216.4,545.0" fill="none" stroke="#404040" stroke-width="0.4" stroke-linejoin="round"/>
<path d="M212.8,563.2L217.9,560.3L223.0,561.1L224.5,564.7" fill="none" stroke="#404040" stroke-width="0.4" stroke-linejoin="round"/>
<path d="M217.2,548.6L224.5,552.3L225.2,555.9L230.3,554.5L233.9,559.6" fill="none" stroke="#404040" stroke-width="0.4" stroke-linejoin="round"/>
<path d="M169.7,576.4L163.1,579.3L159.5,582.2L155.8,583.7L153.6,588.8L150.0,590.3" fill="none" stroke="#404040" stroke-width="0.4" stroke-linejoin="round"/>
<path d="M187.2,573.5L188.0,577.8L192.3,580.0L195.3,578.6L199.6,570.5" fill="none" stroke="#404040" stroke-width="0.4" stroke-linejoin="round"/>
<path d="M195.3,578.6L194.5,584.4L205.5,582.2L214.2,580.0L220.1,580.0" fill="none" stroke="#404040" stroke-width="0.4" stroke-linejoin="round"/>
<path d="M193.8,593.9L201.1,595.4L206.2,598.3" fill="none" stroke="#404040" stroke-width="0.4" stroke-linejoin="round"/>
<path d="M175.5,601.2L167.5,599.7L160.9,598.3L159.5,594.6L155.8,595.4L150.0,597.6" fill="none" stroke="#404040" stroke-width="0.4" stroke-linejoin="round"/>
<path d="M177.0,588.8L169.0,588.8L158.8,589.5L153.6,588.8" fill="none" stroke="#404040" stroke-width="0.4" stroke-linejoin="round"/>
<path d="M159.5,582.2L160.9,587.3L158.8,589.5" fill="none" stroke="#404040" stroke-width="0.4" stroke-linejoin="round"/>
<path d="M175.5,601.2L170.4,603.4L167.5,606.3L163.1,610.0L158.8,611.4L159.5,615.1L161.7,620.9L163.1,625.0" fill="none" stroke="#404040" stroke-width="0.4" stroke-linejoin="round"/>
<path d="M158.8,611.4L152.9,612.9L150.0,612.2" fill="none" stroke="#404040" stroke-width="0.4" stroke-linejoin="round"/>
<path d="M181.4,607.0L178.5,610.7L177.0,613.6" fill="none" stroke="#404040" stroke-width="0.4" stroke-linejoin="round"/>
<path d="M185.8,601.2L192.3,601.2L196.7,603.4L200.4,607.8" fill="none" stroke="#404040" stroke-width="0.4" stroke-linejoin="round"/>
<path d="M239.6,523.9L240.2,529.2L241.7,533.8" fill="none" stroke="#404040" stroke-width="0.4" stroke-linejoin="round"/>
<path d="M247.6,518.6L247.0,524.9L248.7,532.3" fill="none" stroke="#404040" stroke-width="0.4" stroke-linejoin="round"/>
<path d="M252.5,516.5L252.9,523.9L251.9,530.2" fill="none" stroke="#404040" stroke-width="0.4" stroke-linejoin="round"/>
<path d="M55.9,551.4L62.8,549.2L71.5,549.2L75.2,547.0L77.4,543.4L81.8,541.9L83.2,538.2L86.1,540.4L89.8,539.0L92.7,542.6L90.5,544.8L86.1,547.0L83.2,548.5L87.6,551.4L87.6,555.0L85.4,555.8L84.7,552.8L81.8,552.8L78.8,555.8L73.0,558.0L68.6,559.4L67.2,561.6L65.0,559.4L58.4,558.2Z" fill="#f5b800" stroke="#6a5a18" stroke-width="0.4" stroke-linejoin="round"/>
<path d="M81.6,549.2L88.2,547.7L94.0,547.0L99.9,545.5L104.2,543.4L110.1,540.4L117.4,537.5L119.6,541.9L123.9,542.6L123.9,544.1L118.8,544.8L116.6,547.0L113.0,548.5L107.9,549.9L106.4,551.4L98.4,552.8L96.2,550.7L93.3,550.7L90.4,551.4L88.2,550.7L83.8,552.1Z" fill="#f5f500" stroke="#6a5a18" stroke-width="0.4" stroke-linejoin="round"/>
<path d="M107.9,555.0L111.5,552.8L115.9,551.4L119.6,549.9L123.9,549.9L125.4,551.4L124.7,554.3L127.6,555.0L131.2,552.8L133.4,552.1L136.4,555.0L140.0,556.5L143.4,558.4L139.0,560.6L133.4,563.8L127.6,566.7L124.7,563.8L120.3,562.3L115.9,561.6L111.5,562.3L107.9,563.1L107.2,558.7Z" fill="#f5b800" stroke="#6a5a18" stroke-width="0.4" stroke-linejoin="round"/>
<path d="M50.9,574.0L56.1,573.3L61.2,572.6L62.6,570.4L67.0,571.1L72.8,570.4L79.4,568.9L81.6,568.2L88.2,566.0L92.6,564.5L105.0,564.5L105.7,568.2L104.2,572.6L100.6,574.7L99.9,576.9L94.7,577.7L88.2,578.4L83.8,579.6L79.4,578.4L72.8,577.7L67.0,577.7L61.9,578.4L55.3,577.7L53.9,575.5Z" fill="#f5f500" stroke="#6a5a18" stroke-width="0.4" stroke-linejoin="round"/>
<path d="M105.7,564.5L110.1,563.1L115.9,561.6L120.3,562.3L124.7,563.8L127.6,566.7L123.9,569.6L130.5,570.4L134.9,574.7L133.4,577.7L127.6,578.4L119.6,582.8L115.9,580.6L111.5,580.6L109.3,577.7L99.9,576.9L100.6,574.7L104.2,572.6L105.7,568.2Z" fill="#f5f500" stroke="#6a5a18" stroke-width="0.4" stroke-linejoin="round"/>
<path d="M115.9,525.8L121.8,523.6L130.5,522.9L137.5,524.1L146.3,526.3L147.0,531.4L149.2,534.3L143.4,535.0L134.6,535.8L125.8,537.2L118.8,537.5L116.6,533.9L115.2,530.2Z" fill="#f5b800" stroke="#6a5a18" stroke-width="0.4" stroke-linejoin="round"/>
<path d="M146.3,526.3L156.5,524.8L168.2,524.1L175.5,524.1L176.9,527.7L172.6,529.9L169.6,531.4L162.3,530.7L158.7,532.1L157.2,535.0L149.2,534.3L147.0,531.4Z" fill="#f57a00" stroke="#6a5a18" stroke-width="0.4" stroke-linejoin="round"/>
<path d="M172.6,529.9L177.7,528.5L184.2,526.3L186.4,529.2L190.1,533.6L192.3,540.9L190.1,545.3L187.2,548.9L185.0,554.0L178.4,558.4L179.1,551.1L181.3,546.7L182.0,541.6L178.4,538.7L176.2,535.0L170.4,535.0L157.2,535.0L158.7,532.1L162.3,530.7L169.6,531.4Z" fill="#f57a00" stroke="#6a5a18" stroke-width="0.4" stroke-linejoin="round"/>
<path d="M136.8,545.3L141.9,541.6L145.5,538.7L151.4,537.2L157.2,535.0L170.4,535.0L176.2,535.0L178.4,538.7L182.0,541.6L181.3,546.7L179.1,551.1L178.4,556.2L174.0,557.7L168.2,561.3L160.9,565.0L155.0,566.4L151.4,562.8L154.3,559.9L151.4,556.2L147.0,552.6L141.2,548.9Z" fill="#f5b800" stroke="#6a5a18" stroke-width="0.4" stroke-linejoin="round"/>
<path d="M155.0,504.4L162.3,502.9L168.9,506.6L169.6,510.9L175.5,512.4L181.3,508.8L188.6,508.0L195.9,507.3L191.5,511.7L185.7,516.1L179.9,520.4L175.5,523.4L168.2,524.1L160.9,523.4L155.8,519.0L153.6,517.5L159.4,513.9L160.1,508.8Z" fill="#f5b800" stroke="#6a5a18" stroke-width="0.4" stroke-linejoin="round"/>
<path d="M168.9,506.6L174.0,502.9L178.4,498.5L182.8,498.5L184.2,502.9L191.5,506.6L188.6,508.0L181.3,508.8L175.5,512.4L169.6,510.9Z" fill="#f5f500" stroke="#6a5a18" stroke-width="0.4" stroke-linejoin="round"/>
<path d="M186.4,526.3L191.5,524.1L197.4,521.9L203.2,520.4L209.1,519.0L213.4,517.5L207.6,523.4L203.2,524.8L197.4,526.3L191.5,527.0L187.2,528.5Z" fill="#f53d00" stroke="#6a5a18" stroke-width="0.4" stroke-linejoin="round"/>
<path d="M187.2,528.5L191.5,527.0L197.4,526.3L203.2,524.8L207.6,524.1L208.3,525.5L211.2,529.2L209.8,531.4L204.7,534.3L199.6,536.5L195.9,538.7L193.7,541.6L192.3,540.9L190.1,533.6Z" fill="#f5f500" stroke="#6a5a18" stroke-width="0.4" stroke-linejoin="round"/>
<path d="M152.1,479.4L158.0,473.6L168.2,472.1L178.4,472.1L185.7,471.4L188.6,475.0L193.0,478.7L201.8,480.1L204.7,483.8L203.9,488.2L205.8,489.6L210.2,490.4L214.6,491.1L221.9,492.6L220.7,496.2L213.4,496.9L207.6,497.7L201.8,498.4L194.5,496.9L188.6,494.7L184.2,492.6L181.3,488.2L177.7,484.5L172.6,483.1L163.8,484.5L158.0,482.3Z" fill="#f5f500" stroke="#6a5a18" stroke-width="0.4" stroke-linejoin="round"/>
<path d="M195.9,461.9L201.8,459.0L207.6,456.1L212.4,454.6L215.3,452.4L220.4,454.6L230.7,457.5L241.6,459.0L243.8,463.4L246.7,469.2L247.4,474.3L246.0,478.7L246.7,482.3L248.9,483.8L246.7,484.5L243.8,488.2L239.4,491.1L235.0,493.3L235.8,497.7L227.7,499.9L217.5,502.0L208.8,504.2L201.8,504.7L197.4,504.2L201.8,498.4L194.2,494.7L192.7,490.4L203.9,488.2L204.7,483.8L206.1,480.9L210.5,478.0L207.6,474.3L209.1,470.7L206.1,467.0L203.9,464.8Z" fill="#f5f500" stroke="#6a5a18" stroke-width="0.4" stroke-linejoin="round"/>
<path d="M204.4,483.8L207.3,480.9L210.9,483.1L213.9,486.7L221.9,486.7L227.0,488.2L227.0,491.1L221.9,492.6L214.6,491.1L210.2,490.4L205.8,489.6L203.6,486.7Z" fill="#ffffff" stroke="#404040" stroke-width="0.4" stroke-linejoin="round"/>
<path d="M248.9,483.8L251.1,483.8L254.7,485.3L255.5,488.9L254.0,491.8L250.4,494.7L245.3,496.9L235.8,497.7L235.0,493.3L239.4,491.1L243.8,488.2L246.7,484.5Z" fill="#f57a00" stroke="#6a5a18" stroke-width="0.4" stroke-linejoin="round"/>
<path d="M197.4,504.2L201.8,504.7L208.8,504.2L217.5,502.0L227.7,499.9L235.8,497.7L245.3,496.9L251.8,496.2L248.2,499.1L242.3,502.0L233.6,503.5L226.3,505.7L219.0,509.3L214.6,511.5L207.3,513.0L201.8,512.6L199.6,510.1L200.3,507.2Z" fill="#f50000" stroke="#6a5a18" stroke-width="0.4" stroke-linejoin="round"/>
<path d="M255.9,482.3L266.9,483.8L268.4,481.6L272.7,478.7L279.3,477.7L289.5,477.2L288.1,481.6L287.3,484.5L286.6,488.2L288.8,491.8L293.2,494.7L300.5,496.9L301.2,502.8L309.2,503.5L313.6,505.7L315.1,510.1L319.5,514.5L324.6,518.4L323.8,519.9L319.5,519.9L315.1,517.7L311.4,516.9L310.0,514.0L304.9,512.6L299.0,513.3L293.2,514.0L285.9,514.0L280.0,515.5L275.7,517.7L271.3,521.3L266.9,522.8L263.2,526.4L261.1,524.2L259.6,520.6L259.6,516.6L269.8,514.5L273.5,512.3L272.7,510.1L268.4,507.9L265.4,504.2L264.0,500.6L266.9,497.7L271.3,494.7L266.9,494.0L258.1,494.0L251.6,496.2L250.1,494.7L253.8,491.8L255.2,488.9L254.5,485.3Z" fill="#f5f500" stroke="#6a5a18" stroke-width="0.4" stroke-linejoin="round"/>
<path d="M213.9,515.3L219.0,509.5L226.3,505.8L233.6,503.6L242.3,501.8L243.8,504.4L241.6,508.0L242.3,511.7L248.2,512.4L251.4,513.1L251.1,518.2L248.9,519.7L246.0,517.5L240.9,518.2L235.0,519.0L229.2,517.5L225.5,519.7L222.6,519.0L220.4,516.8L217.5,515.3Z" fill="#f5b800" stroke="#6a5a18" stroke-width="0.4" stroke-linejoin="round"/>
<path d="M213.9,515.3L217.5,515.3L220.4,516.8L222.6,519.0L223.4,521.9L221.9,524.8L224.1,524.8L221.9,527.7L219.0,529.9L214.6,531.4L210.9,529.9L208.8,527.0L208.0,524.1L211.7,520.4L213.1,517.5Z" fill="#f57a00" stroke="#6a5a18" stroke-width="0.4" stroke-linejoin="round"/>
<path d="M222.6,519.0L225.5,519.7L229.2,517.5L235.0,519.0L240.9,518.2L246.0,517.5L248.2,520.4L243.8,521.9L238.0,523.4L232.1,524.1L227.7,523.4L224.1,524.8L221.9,524.8L223.4,521.9Z" fill="#f5f500" stroke="#6a5a18" stroke-width="0.4" stroke-linejoin="round"/>
<path d="M183.6,587.2L185.8,585.7L188.0,584.6L188.4,582.4L189.5,584.6L190.5,586.8L192.7,586.1L192.0,588.2L190.9,591.2L190.2,593.4L187.6,594.1L185.4,593.4L184.3,591.2L184.3,589.0Z" fill="#f5f500" stroke="#6a5a18" stroke-width="0.4" stroke-linejoin="round"/>
<path d="M99.3,545.3L105.0,548.3L108.0,548.8" fill="none" stroke="#6a5a18" stroke-width="0.4" stroke-linejoin="round"/>
<path d="M80.9,570.3L80.4,574.4L72.8,577.4" fill="none" stroke="#6a5a18" stroke-width="0.4" stroke-linejoin="round"/>
<path d="M105.5,564.2L105.0,570.3L104.5,574.4L100.4,575.4" fill="none" stroke="#6a5a18" stroke-width="0.4" stroke-linejoin="round"/>
<path d="M108.0,572.3L115.2,571.3L121.3,570.3" fill="none" stroke="#6a5a18" stroke-width="0.4" stroke-linejoin="round"/>
<path d="M108.0,572.3L110.1,579.5" fill="none" stroke="#6a5a18" stroke-width="0.4" stroke-linejoin="round"/>
<path d="M204.1,464.7L207.0,469.8L211.4,473.5L215.0,475.7L220.9,476.4L228.2,475.7L234.7,477.8L236.2,484.4L242.8,487.3" fill="none" stroke="#6a5a18" stroke-width="0.4" stroke-linejoin="round"/>
<path d="M211.4,473.5L209.9,478.6L206.3,481.5" fill="none" stroke="#6a5a18" stroke-width="0.4" stroke-linejoin="round"/>
<path d="M209.9,490.3L211.4,495.4L215.0,496.8L222.3,498.3L228.2,495.4L227.4,491.7" fill="none" stroke="#6a5a18" stroke-width="0.4" stroke-linejoin="round"/>
<path d="M211.4,495.4L204.8,498.3L200.4,500.5" fill="none" stroke="#6a5a18" stroke-width="0.4" stroke-linejoin="round"/>
<path d="M228.2,495.4L234.7,493.2" fill="none" stroke="#6a5a18" stroke-width="0.4" stroke-linejoin="round"/>
<path d="M287.3,484.5L281.5,486.7L276.4,488.9L273.5,494.0L271.3,494.7" fill="none" stroke="#6a5a18" stroke-width="0.4" stroke-linejoin="round"/>
<path d="M265.4,500.6L274.2,497.7L283.7,496.2L286.6,498.4L286.6,504.2L301.2,502.8" fill="none" stroke="#6a5a18" stroke-width="0.4" stroke-linejoin="round"/>
<path d="M268.4,507.9L278.6,505.7L286.6,504.2" fill="none" stroke="#6a5a18" stroke-width="0.4" stroke-linejoin="round"/>
<path d="M174.5,601.4L177.8,601.8L179.6,603.6L182.2,605.4L182.5,607.2" fill="none" stroke="#1a1a1a" stroke-width="0.6" stroke-linejoin="round"/>
<path d="M181.4,597.7L182.9,595.5L181.8,594.8L179.6,593.4L180.7,592.3L182.9,593.4L183.2,595.2" fill="none" stroke="#1a1a1a" stroke-width="0.6" stroke-linejoin="round"/>
<path d="M186.2,600.3L188.4,599.6L190.5,597.7L192.4,596.6L192.2,593.0" fill="none" stroke="#1a1a1a" stroke-width="0.6" stroke-linejoin="round"/>
<path d="M178.1,602.1L180.3,599.2L181.4,597.7" fill="none" stroke="#1a1a1a" stroke-width="0.6" stroke-linejoin="round"/>
<path d="M179.2,588.2L180.7,585.7L182.9,584.6L183.6,587.2" fill="none" stroke="#1a1a1a" stroke-width="0.6" stroke-linejoin="round"/>
<path d="M179.2,588.2L178.5,591.9L179.6,593.4" fill="none" stroke="#1a1a1a" stroke-width="0.6" stroke-linejoin="round"/>
<path d="M183.6,587.2L185.8,585.7L188.0,584.6L188.4,582.4L189.5,584.6L190.5,586.8L192.7,586.1" fill="none" stroke="#1a1a1a" stroke-width="0.6" stroke-linejoin="round"/>
</g>
<g id="map2021">
<path d="M351.9,529.4L366.0,525.6L372.4,523.6L378.0,524.1L387.2,526.1L396.4,527.6L405.5,526.7L411.3,526.0L419.8,526.7L429.7,526.0L435.3,523.7L439.6,522.6L445.2,523.7L443.8,518.4L443.1,513.8L444.5,509.3L443.1,505.5L432.5,505.5L425.4,503.9L423.3,500.1L424.0,495.6L423.3,493.3L428.3,493.7L433.2,495.6L437.4,497.8L443.8,496.3L449.4,494.0L453.7,493.3L459.3,495.6L462.1,494.8L466.4,493.3L472.0,490.2L470.6,485.7L474.8,483.4L481.9,481.1L487.5,479.6L493.2,478.8L491.9,475.0L497.6,468.9L507.4,467.3L517.3,467.3L524.4,466.6L527.2,461.3L534.2,456.7L539.9,453.7L545.5,450.6L552.6,446.8L553.0,446.8L557.9,449.1L567.8,452.1L578.4,453.7L587.6,455.2L591.1,449.9L600.3,446.8L613.0,442.2L617.2,445.3L620.7,449.1L626.4,448.3L625.7,451.4L617.2,454.4L615.8,457.5L618.6,459.7L630.6,455.2L632.5,460.5L631.1,463.5L636.0,464.3L631.1,468.9L624.7,472.7L629.7,475.0L636.7,474.2L643.8,477.2L649.4,478.8L655.1,477.2L660.7,479.5L667.8,482.6L666.4,486.4L669.2,488.6L667.8,492.4L661.4,494.7L655.1,498.5L648.0,501.6L649.4,506.9L653.7,511.5L658.6,515.6L657.9,517.2L653.7,517.2L649.4,514.9L645.9,514.1L644.5,511.1L639.5,509.6L633.9,510.3L628.3,511.1L621.2,511.1L615.6,512.6L611.3,514.9L607.1,518.7L602.9,520.2L599.3,524.0L596.0,525.3L589.0,526.1L584.8,528.6L579.1,531.1L573.5,537.5L572.1,539.0L573.5,548.1L576.0,549.9L574.5,551.5L570.3,555.3L571.0,559.1L566.1,562.2L561.8,565.2L559.0,567.5L553.4,569.8L550.5,574.4L551.9,578.2L557.6,580.4L556.2,586.5L551.9,590.3L549.1,594.1L543.5,598.7L542.1,602.5L539.2,607.1L536.4,610.9L533.6,616.2L531.5,620.0L526.5,618.8L520.2,617.3L516.0,615.4L509.6,616.2L503.3,615.4L499.0,613.1L499.7,617.9L501.6,628.5L500.7,637.0L497.7,644.5L492.8,646.6L489.8,653.0L488.8,661.5L492.8,665.8L490.8,672.2L485.8,675.4L479.9,679.6L476.0,675.4L470.0,679.6L467.1,678.6L467.1,673.2L465.1,662.6L462.1,651.9L457.2,645.5L458.2,639.2L455.2,630.6L453.2,622.1L449.3,625.3L445.3,629.6L440.4,633.8L435.5,638.1L434.5,643.4L428.5,646.6L422.6,647.7L416.7,644.5L413.7,643.4L411.8,632.8L406.8,629.6L406.4,624.3L408.5,619.8L411.3,616.0L417.0,612.2L421.2,612.9L426.1,612.2L427.6,609.1L431.8,608.4L438.8,607.6L441.0,603.8L445.2,604.6L448.0,602.3L449.4,599.2L452.3,597.7L451.5,591.6L453.0,587.1L459.3,585.5L459.3,582.5L456.9,580.4L452.7,580.4L450.6,577.3L441.4,576.6L436.5,577.3L430.1,578.1L425.9,579.3L421.6,578.1L415.4,577.3L405.5,578.1L397.8,577.3L387.2,576.9L377.3,578.1L368.2,577.3L359.0,575.8L351.2,574.3L350.5,569.7L352.6,564.4L353.3,559.8L351.2,553.7L349.1,549.9L346.0,546.1L346.6,542.8L350.5,540.1L352.2,538.5Z" fill="#fff" stroke="#404040" stroke-width="0.4" stroke-linejoin="round"/>
<path d="M398.9,549.9L405.5,547.7L414.0,547.7L417.5,545.4L419.7,541.6L423.9,540.1L425.3,536.3L428.1,538.5L431.7,537.0L434.5,540.8L432.4,543.1L428.1,545.4L425.3,546.9L429.5,549.9L429.5,553.7L427.4,554.5L426.7,551.5L423.9,551.5L421.1,554.5L415.4,556.8L411.2,558.3L409.8,560.6L407.7,558.3L401.3,557.1Z" fill="none" stroke="#404040" stroke-width="0.4" stroke-linejoin="round"/>
<path d="M423.8,547.7L430.1,546.1L435.7,545.4L441.4,543.9L445.6,541.6L451.3,538.5L458.3,535.5L460.4,540.1L464.7,540.8L464.7,542.3L459.7,543.1L457.6,545.4L454.1,546.9L449.1,548.4L447.7,549.9L440.0,551.5L437.9,549.2L435.0,549.2L432.2,549.9L430.1,549.2L425.9,550.7Z" fill="none" stroke="#404040" stroke-width="0.4" stroke-linejoin="round"/>
<path d="M449.1,553.7L452.7,551.5L456.9,549.9L460.4,548.4L464.7,548.4L466.1,549.9L465.4,553.0L468.2,553.7L471.7,551.5L473.8,550.7L476.7,553.7L480.2,555.3L483.4,557.2L479.2,559.5L473.8,562.9L468.2,565.9L465.4,562.9L461.1,561.4L456.9,560.6L452.7,561.4L449.1,562.1L448.4,557.6Z" fill="none" stroke="#404040" stroke-width="0.4" stroke-linejoin="round"/>
<path d="M394.1,573.5L399.1,572.8L404.0,572.0L405.4,569.7L409.6,570.5L415.3,569.7L421.6,568.2L423.8,567.4L430.1,565.2L434.3,563.6L446.3,563.6L447.0,567.4L445.6,572.0L442.1,574.3L441.4,576.6L436.5,577.3L430.1,578.1L425.9,579.3L421.6,578.1L415.3,577.3L409.6,577.3L404.7,578.1L398.4,577.3L396.9,575.0Z" fill="none" stroke="#404040" stroke-width="0.4" stroke-linejoin="round"/>
<path d="M447.0,563.6L451.3,562.1L456.9,560.6L461.1,561.4L465.4,562.9L468.2,565.9L464.7,569.0L471.0,569.7L475.3,574.3L473.8,577.3L468.2,578.1L460.4,582.7L456.9,580.4L452.7,580.4L450.6,577.3L441.4,576.6L442.1,574.3L445.6,572.0L447.0,567.4Z" fill="none" stroke="#404040" stroke-width="0.4" stroke-linejoin="round"/>
<path d="M456.9,523.3L462.6,521.0L471.0,520.3L477.8,521.5L486.3,523.8L487.0,529.1L489.1,532.1L483.4,532.9L475.0,533.7L466.5,535.2L459.7,535.5L457.6,531.7L456.2,527.9Z" fill="none" stroke="#404040" stroke-width="0.4" stroke-linejoin="round"/>
<path d="M486.3,523.8L496.1,522.3L507.4,521.5L514.5,521.5L515.9,525.3L511.7,527.6L508.8,529.1L501.8,528.3L498.3,529.9L496.8,532.9L489.1,532.1L487.0,529.1Z" fill="none" stroke="#404040" stroke-width="0.4" stroke-linejoin="round"/>
<path d="M511.7,527.6L516.6,526.1L523.0,523.8L525.1,526.8L528.6,531.4L530.7,539.0L528.6,543.6L525.8,547.4L523.7,552.7L517.3,557.2L518.0,549.6L520.1,545.1L520.8,539.8L517.3,536.7L515.2,532.9L509.5,532.9L496.8,532.9L498.3,529.9L501.8,528.3L508.8,529.1Z" fill="none" stroke="#404040" stroke-width="0.4" stroke-linejoin="round"/>
<path d="M477.1,543.6L482.0,539.8L485.6,536.7L491.2,535.2L496.8,532.9L509.5,532.9L515.2,532.9L517.3,536.7L520.8,539.8L520.1,545.1L518.0,549.6L517.3,555.0L513.1,556.5L507.4,560.3L500.4,564.1L494.7,565.6L491.2,561.8L494.0,558.8L491.2,555.0L487.0,551.2L481.3,547.4Z" fill="none" stroke="#404040" stroke-width="0.4" stroke-linejoin="round"/>
<path d="M494.7,501.0L501.8,499.4L508.1,503.2L508.8,507.8L514.5,509.3L520.1,505.5L527.2,504.8L534.2,504.0L530.0,508.6L524.4,513.1L518.7,517.7L514.5,520.7L507.4,521.5L500.4,520.7L495.4,516.2L493.3,514.7L499.0,510.9L499.7,505.5Z" fill="none" stroke="#404040" stroke-width="0.4" stroke-linejoin="round"/>
<path d="M508.1,503.2L513.1,499.4L517.3,494.9L521.5,494.9L523.0,499.4L530.0,503.2L527.2,504.8L520.1,505.5L514.5,509.3L508.8,507.8Z" fill="none" stroke="#404040" stroke-width="0.4" stroke-linejoin="round"/>
<path d="M525.1,523.8L530.0,521.5L535.7,519.2L541.3,517.7L546.9,516.2L551.2,514.7L545.5,520.7L541.3,522.3L535.7,523.8L530.0,524.5L525.8,526.1Z" fill="none" stroke="#404040" stroke-width="0.4" stroke-linejoin="round"/>
<path d="M525.8,526.1L530.0,524.5L535.7,523.8L541.3,522.3L545.5,521.5L546.2,523.0L549.1,526.8L547.6,529.1L542.7,532.1L537.8,534.4L534.2,536.7L532.1,539.8L530.7,539.0L528.6,531.4Z" fill="none" stroke="#404040" stroke-width="0.4" stroke-linejoin="round"/>
<path d="M491.9,475.0L497.6,468.9L507.4,467.3L517.3,467.3L524.4,466.6L527.2,470.4L531.4,474.2L539.9,475.7L542.7,479.5L542.0,484.1L543.8,485.6L548.1,486.4L552.3,487.1L559.4,488.6L558.2,492.4L551.2,493.2L545.5,494.0L539.9,494.7L532.8,493.2L527.2,490.9L523.0,488.6L520.1,484.1L516.6,480.3L511.7,478.8L503.2,480.3L497.6,478.0Z" fill="none" stroke="#404040" stroke-width="0.4" stroke-linejoin="round"/>
<path d="M534.2,456.7L539.9,453.7L545.5,450.6L550.2,449.1L553.0,446.8L557.9,449.1L567.8,452.1L578.4,453.7L580.5,458.2L583.3,464.3L584.1,469.6L582.6,474.2L583.3,478.0L585.5,479.5L583.3,480.3L580.5,484.1L576.3,487.1L572.1,489.4L572.8,494.0L565.0,496.2L555.1,498.5L546.7,500.8L539.9,501.3L535.7,500.8L539.9,494.7L532.5,490.9L531.1,486.4L542.0,484.1L542.7,479.5L544.1,476.5L548.3,473.4L545.5,469.6L546.9,465.8L544.1,462.0L542.0,459.7Z" fill="none" stroke="#404040" stroke-width="0.4" stroke-linejoin="round"/>
<path d="M542.4,479.5L545.2,476.5L548.8,478.8L551.6,482.6L559.4,482.6L564.3,484.1L564.3,487.1L559.4,488.6L552.3,487.1L548.1,486.4L543.8,485.6L541.7,482.6Z" fill="none" stroke="#404040" stroke-width="0.4" stroke-linejoin="round"/>
<path d="M585.5,479.5L587.6,479.5L591.1,481.0L591.8,484.8L590.4,487.9L586.9,490.9L581.9,493.2L572.8,494.0L572.1,489.4L576.3,487.1L580.5,484.1L583.3,480.3Z" fill="none" stroke="#404040" stroke-width="0.4" stroke-linejoin="round"/>
<path d="M535.7,500.8L539.9,501.3L546.7,500.8L555.1,498.5L565.0,496.2L572.8,494.0L581.9,493.2L588.3,492.4L584.8,495.5L579.1,498.5L570.6,500.1L563.6,502.3L556.5,506.1L552.3,508.4L545.2,509.9L539.9,509.5L537.8,506.9L538.5,503.9Z" fill="none" stroke="#404040" stroke-width="0.4" stroke-linejoin="round"/>
<path d="M592.3,478.0L602.9,479.5L604.3,477.2L608.5,474.2L614.8,473.1L624.7,472.7L623.3,477.2L622.6,480.3L621.9,484.1L624.0,487.9L628.3,490.9L635.3,493.2L636.0,499.3L643.8,500.1L648.0,502.3L649.4,506.9L653.7,511.5L658.6,515.6L657.9,517.1L653.7,517.1L649.4,514.8L645.9,514.0L644.5,511.0L639.5,509.5L633.9,510.2L628.3,511.0L621.2,511.0L615.6,512.5L611.3,514.8L607.1,518.6L602.9,520.1L599.3,523.9L597.2,521.7L595.8,517.8L595.8,513.7L605.7,511.5L609.2,509.2L608.5,506.9L604.3,504.6L601.4,500.8L600.0,497.0L602.9,494.0L607.1,490.9L602.9,490.2L594.4,490.2L588.0,492.4L586.6,490.9L590.2,487.9L591.6,484.8L590.9,481.0Z" fill="none" stroke="#404040" stroke-width="0.4" stroke-linejoin="round"/>
<path d="M551.6,512.4L556.5,506.3L563.6,502.5L570.6,500.2L579.1,498.2L580.5,501.0L578.4,504.8L579.1,508.6L584.8,509.3L587.9,510.1L587.6,515.4L585.5,516.9L582.6,514.7L577.7,515.4L572.1,516.2L566.4,514.7L562.9,516.9L560.1,516.2L557.9,513.9L555.1,512.4Z" fill="none" stroke="#404040" stroke-width="0.4" stroke-linejoin="round"/>
<path d="M551.6,512.4L555.1,512.4L557.9,513.9L560.1,516.2L560.8,519.2L559.4,522.3L561.5,522.3L559.4,525.3L556.5,527.6L552.3,529.1L548.8,527.6L546.7,524.5L546.0,521.5L549.5,517.7L550.9,514.7Z" fill="none" stroke="#404040" stroke-width="0.4" stroke-linejoin="round"/>
<path d="M560.1,516.2L562.9,516.9L566.4,514.7L572.1,516.2L577.7,515.4L582.6,514.7L584.8,517.7L580.5,519.2L574.9,520.7L569.2,521.5L565.0,520.7L561.5,522.3L559.4,522.3L560.8,519.2Z" fill="none" stroke="#404040" stroke-width="0.4" stroke-linejoin="round"/>
<path d="M522.4,587.2L524.5,585.7L526.6,584.6L526.9,582.3L528.0,584.6L529.1,586.8L531.2,586.1L530.5,588.4L529.4,591.4L528.7,593.7L526.2,594.4L524.1,593.7L523.1,591.4L523.1,589.1Z" fill="none" stroke="#404040" stroke-width="0.4" stroke-linejoin="round"/>
<path d="M372.0,523.6L373.0,529.0L374.0,534.8L375.5,538.0L377.0,541.2L376.5,543.9L375.0,545.1" fill="none" stroke="#404040" stroke-width="0.4" stroke-linejoin="round"/>
<path d="M352.3,544.4L353.3,548.1L361.7,545.5L363.1,541.7L366.1,540.7L368.6,542.8L369.6,545.1L375.0,545.1L378.0,541.2L378.9,536.9L384.4,536.4L391.3,536.4L393.3,534.3L396.2,533.2L397.2,527.4" fill="none" stroke="#404040" stroke-width="0.4" stroke-linejoin="round"/>
<path d="M396.2,533.2L398.7,535.3L398.2,537.5L400.2,538.0L399.7,534.8L403.6,533.7L404.1,531.1L408.1,532.1L411.0,534.8L414.0,534.3" fill="none" stroke="#404040" stroke-width="0.4" stroke-linejoin="round"/>
<path d="M375.0,545.1L385.4,545.1L388.3,548.1L398.2,549.2" fill="none" stroke="#404040" stroke-width="0.4" stroke-linejoin="round"/>
<path d="M392.3,540.1L393.8,538.0L391.3,536.4" fill="none" stroke="#404040" stroke-width="0.4" stroke-linejoin="round"/>
<path d="M351.8,554.0L357.7,551.8L366.1,548.7L375.0,545.1" fill="none" stroke="#404040" stroke-width="0.4" stroke-linejoin="round"/>
<path d="M353.3,559.8L356.7,558.2L363.1,554.0L366.1,552.4L374.5,551.8L377.5,552.4L378.9,554.5L384.4,554.0L391.3,554.0L398.7,554.5L401.2,556.6" fill="none" stroke="#404040" stroke-width="0.4" stroke-linejoin="round"/>
<path d="M365.6,549.2L366.1,552.4" fill="none" stroke="#404040" stroke-width="0.4" stroke-linejoin="round"/>
<path d="M374.5,551.8L374.0,557.2L375.5,560.9L374.5,566.2L372.0,569.4L369.6,573.7L368.1,577.4" fill="none" stroke="#404040" stroke-width="0.4" stroke-linejoin="round"/>
<path d="M375.5,560.9L379.4,559.8L382.4,560.9L388.3,558.8L394.3,558.2L398.7,559.8L400.2,557.2" fill="none" stroke="#404040" stroke-width="0.4" stroke-linejoin="round"/>
<path d="M372.0,569.4L377.5,568.9L384.4,570.5L388.3,567.8L391.3,565.7L398.7,559.8" fill="none" stroke="#404040" stroke-width="0.4" stroke-linejoin="round"/>
<path d="M391.3,565.7L390.3,570.5L394.3,573.1" fill="none" stroke="#404040" stroke-width="0.4" stroke-linejoin="round"/>
<path d="M353.3,564.1L357.7,565.2L364.6,566.2L365.1,569.4L363.6,572.6L357.7,573.7L353.3,574.7" fill="none" stroke="#404040" stroke-width="0.4" stroke-linejoin="round"/>
<path d="M446.3,524.4L445.8,519.6L442.9,517.5L444.4,513.2L446.3,511.1L443.9,507.9L444.4,504.7" fill="none" stroke="#404040" stroke-width="0.4" stroke-linejoin="round"/>
<path d="M429.5,526.5L431.0,531.3L432.5,536.1L433.5,537.7" fill="none" stroke="#404040" stroke-width="0.4" stroke-linejoin="round"/>
<path d="M402.9,531.3L405.3,531.3L408.3,532.9L411.3,535.6L410.3,538.8L409.3,543.0L410.3,546.2" fill="none" stroke="#404040" stroke-width="0.4" stroke-linejoin="round"/>
<path d="M411.3,535.6L417.7,535.0L424.1,535.6" fill="none" stroke="#404040" stroke-width="0.4" stroke-linejoin="round"/>
<path d="M433.5,537.7L434.5,534.5L440.4,535.0L444.4,532.4L446.3,534.5L444.4,536.6L442.4,535.0" fill="none" stroke="#404040" stroke-width="0.4" stroke-linejoin="round"/>
<path d="M446.3,534.5L446.3,532.9L451.3,531.8L452.3,534.5L454.2,531.3L457.2,532.9" fill="none" stroke="#404040" stroke-width="0.4" stroke-linejoin="round"/>
<path d="M415.7,559.0L422.6,557.9L432.0,557.9L433.5,561.1L434.5,563.8" fill="none" stroke="#404040" stroke-width="0.4" stroke-linejoin="round"/>
<path d="M461.9,495.0L453.5,499.6L442.9,505.7" fill="none" stroke="#404040" stroke-width="0.4" stroke-linejoin="round"/>
<path d="M461.9,495.0L465.4,500.4L470.4,504.2L476.0,508.0L476.7,513.3L473.2,514.8L468.3,515.6L466.9,518.6L469.0,520.1" fill="none" stroke="#404040" stroke-width="0.4" stroke-linejoin="round"/>
<path d="M447.1,523.9L456.3,523.2" fill="none" stroke="#404040" stroke-width="0.4" stroke-linejoin="round"/>
<path d="M476.7,513.3L483.1,512.5L487.3,510.2L493.0,508.7L497.2,508.0" fill="none" stroke="#404040" stroke-width="0.4" stroke-linejoin="round"/>
<path d="M471.8,490.5L478.9,491.2L483.1,493.5L491.6,494.3L493.7,498.8L495.8,500.4" fill="none" stroke="#404040" stroke-width="0.4" stroke-linejoin="round"/>
<path d="M472.4,489.2L479.4,489.9L485.1,493.7L492.1,494.5L493.5,498.3L492.1,500.6L494.9,499.8" fill="none" stroke="#404040" stroke-width="0.4" stroke-linejoin="round"/>
<path d="M461.8,495.3L465.3,500.6L469.5,502.9L475.2,505.1L476.6,510.5L475.9,514.3L477.3,515.8L485.1,513.5L490.7,510.5L493.5,508.2" fill="none" stroke="#404040" stroke-width="0.4" stroke-linejoin="round"/>
<path d="M502.7,480.8L503.4,484.6L507.6,487.7L509.1,493.0L506.9,496.8L506.2,499.8" fill="none" stroke="#404040" stroke-width="0.4" stroke-linejoin="round"/>
<path d="M523.2,490.7L521.8,494.5L523.2,498.3L528.1,501.3L535.9,502.9" fill="none" stroke="#404040" stroke-width="0.4" stroke-linejoin="round"/>
<path d="M466.7,515.8L468.1,519.6L476.6,516.6L477.3,515.8" fill="none" stroke="#404040" stroke-width="0.4" stroke-linejoin="round"/>
<path d="M538.8,537.8L540.9,542.3L542.4,546.9L539.5,551.5L536.0,554.5" fill="none" stroke="#404040" stroke-width="0.4" stroke-linejoin="round"/>
<path d="M558.6,528.6L557.2,532.5L555.8,537.0L550.1,540.8L546.6,543.9L544.5,545.4L542.4,546.9" fill="none" stroke="#404040" stroke-width="0.4" stroke-linejoin="round"/>
<path d="M558.6,528.6L562.8,532.5L564.9,538.5L565.6,542.3L571.3,540.8" fill="none" stroke="#404040" stroke-width="0.4" stroke-linejoin="round"/>
<path d="M555.8,537.0L560.0,540.1L565.6,542.3" fill="none" stroke="#404040" stroke-width="0.4" stroke-linejoin="round"/>
<path d="M555.1,546.9L554.3,551.5L550.1,554.5L545.2,556.8" fill="none" stroke="#404040" stroke-width="0.4" stroke-linejoin="round"/>
<path d="M555.1,546.9L550.1,545.4L546.6,543.9" fill="none" stroke="#404040" stroke-width="0.4" stroke-linejoin="round"/>
<path d="M555.1,546.9L562.1,551.5L562.8,554.5L569.9,556.0" fill="none" stroke="#404040" stroke-width="0.4" stroke-linejoin="round"/>
<path d="M550.1,554.5L555.8,556.8L562.1,553.7" fill="none" stroke="#404040" stroke-width="0.4" stroke-linejoin="round"/>
<path d="M526.1,551.5L525.4,556.8" fill="none" stroke="#404040" stroke-width="0.4" stroke-linejoin="round"/>
<path d="M473.3,577.9L478.2,580.2L485.3,581.7L493.7,584.0L495.9,580.2L500.8,575.7L503.6,574.1" fill="none" stroke="#404040" stroke-width="0.4" stroke-linejoin="round"/>
<path d="M493.7,584.0L491.6,589.3L488.8,590.9L488.1,596.2L491.6,596.9L493.0,591.6L491.6,589.3" fill="none" stroke="#404040" stroke-width="0.4" stroke-linejoin="round"/>
<path d="M488.1,596.2L486.0,599.2L484.6,603.0L479.6,603.0L475.4,600.0L471.9,596.2L469.0,591.6L464.8,587.8L463.4,591.6L464.1,596.2L462.7,601.5L459.9,607.6L464.1,610.6L464.8,615.2L469.8,619.0L476.1,616.7L478.9,612.2L479.6,607.6L479.6,603.0" fill="none" stroke="#404040" stroke-width="0.4" stroke-linejoin="round"/>
<path d="M452.1,587.1L455.6,586.3L459.9,587.8L464.8,587.8" fill="none" stroke="#404040" stroke-width="0.4" stroke-linejoin="round"/>
<path d="M452.1,587.1L453.5,593.9L451.4,598.5L452.1,603.0L447.9,603.8L445.1,604.6L446.5,609.1L449.3,612.2L447.9,616.7L449.3,621.3L446.5,625.9" fill="none" stroke="#404040" stroke-width="0.4" stroke-linejoin="round"/>
<path d="M452.1,603.0L455.6,607.6L459.9,607.6" fill="none" stroke="#404040" stroke-width="0.4" stroke-linejoin="round"/>
<path d="M455.6,607.6L454.9,613.7L455.6,619.8L453.5,625.9L455.6,631.9L458.5,638.0L459.2,642.3" fill="none" stroke="#404040" stroke-width="0.4" stroke-linejoin="round"/>
<path d="M484.6,603.0L483.9,609.1L485.3,612.2L492.3,613.7L498.0,612.9L499.4,608.4L503.6,605.3L501.5,601.5L499.4,599.2L494.4,598.5L491.6,596.9" fill="none" stroke="#404040" stroke-width="0.4" stroke-linejoin="round"/>
<path d="M498.0,612.9L499.4,617.5L500.8,624.3L501.5,631.9L500.8,642.3" fill="none" stroke="#404040" stroke-width="0.4" stroke-linejoin="round"/>
<path d="M492.3,613.7L490.2,618.2L486.7,622.8L485.3,628.9L486.7,635.0L483.9,642.3" fill="none" stroke="#404040" stroke-width="0.4" stroke-linejoin="round"/>
<path d="M469.8,619.0L469.0,624.3L471.2,630.4L470.5,636.5L473.3,642.3" fill="none" stroke="#404040" stroke-width="0.4" stroke-linejoin="round"/>
<path d="M478.9,612.2L483.9,609.1" fill="none" stroke="#404040" stroke-width="0.4" stroke-linejoin="round"/>
<path d="M499.4,599.2L505.0,595.4" fill="none" stroke="#404040" stroke-width="0.4" stroke-linejoin="round"/>
<path d="M494.4,598.5L498.0,591.6L505.0,589.3" fill="none" stroke="#404040" stroke-width="0.4" stroke-linejoin="round"/>
<path d="M431.6,607.3L431.6,617.3L432.4,625.7L433.9,631.6L436.2,634.1" fill="none" stroke="#404040" stroke-width="0.4" stroke-linejoin="round"/>
<path d="M408.3,623.2L416.8,622.4L423.8,622.4L431.6,623.2" fill="none" stroke="#404040" stroke-width="0.4" stroke-linejoin="round"/>
<path d="M416.8,612.3L421.5,616.5L423.8,622.4" fill="none" stroke="#404040" stroke-width="0.4" stroke-linejoin="round"/>
<path d="M412.2,634.1L416.1,628.2L421.5,624.9L431.6,624.0" fill="none" stroke="#404040" stroke-width="0.4" stroke-linejoin="round"/>
<path d="M416.1,634.1L421.5,632.4L428.5,634.1L433.1,636.6" fill="none" stroke="#404040" stroke-width="0.4" stroke-linejoin="round"/>
<path d="M416.1,644.9L415.3,640.8L417.6,638.3L420.7,641.6L423.0,647.5" fill="none" stroke="#404040" stroke-width="0.4" stroke-linejoin="round"/>
<path d="M438.6,607.3L440.1,613.2L445.6,611.5L448.7,615.7L449.4,622.4L452.5,623.2" fill="none" stroke="#404040" stroke-width="0.4" stroke-linejoin="round"/>
<path d="M446.3,602.3L445.6,607.3L449.4,609.8L448.7,615.7" fill="none" stroke="#404040" stroke-width="0.4" stroke-linejoin="round"/>
<path d="M455.6,607.3L454.9,615.7L452.5,623.2" fill="none" stroke="#404040" stroke-width="0.4" stroke-linejoin="round"/>
<path d="M455.6,607.3L465.0,609.0L468.1,615.7L469.6,622.4L469.6,633.2L471.2,639.1L475.8,639.9L480.5,641.6L488.2,646.6L490.6,649.1" fill="none" stroke="#404040" stroke-width="0.4" stroke-linejoin="round"/>
<path d="M457.2,639.1L461.1,635.7L469.6,634.1" fill="none" stroke="#404040" stroke-width="0.4" stroke-linejoin="round"/>
<path d="M465.0,609.0L471.2,603.9L477.4,602.3L480.5,604.8L478.9,611.5L475.8,619.0L469.6,619.8" fill="none" stroke="#404040" stroke-width="0.4" stroke-linejoin="round"/>
<path d="M480.5,604.8L484.4,612.3L492.9,613.2L499.1,613.2" fill="none" stroke="#404040" stroke-width="0.4" stroke-linejoin="round"/>
<path d="M492.9,613.2L491.3,619.8L486.7,624.0L485.9,632.4L484.4,639.1L488.2,642.4L492.1,646.6" fill="none" stroke="#404040" stroke-width="0.4" stroke-linejoin="round"/>
<path d="M475.8,639.9L476.6,634.1L480.5,630.7L485.9,632.4" fill="none" stroke="#404040" stroke-width="0.4" stroke-linejoin="round"/>
<path d="M464.2,659.2L469.6,657.5L474.3,662.5L480.5,660.0L482.0,665.0L477.4,668.4L477.4,672.6" fill="none" stroke="#404040" stroke-width="0.4" stroke-linejoin="round"/>
<path d="M480.5,660.0L481.3,654.1L488.2,654.1" fill="none" stroke="#404040" stroke-width="0.4" stroke-linejoin="round"/>
<path d="M482.0,665.0L487.5,661.7L489.0,661.7" fill="none" stroke="#404040" stroke-width="0.4" stroke-linejoin="round"/>
<path d="M516.0,579.2L518.5,576.2L522.7,574.3L525.5,576.2L527.6,577.3L532.6,578.5L531.5,581.5L530.8,584.6L532.2,588.4L533.6,592.2L533.3,595.6L530.5,596.0L528.7,597.9L526.9,599.8L524.1,601.3L521.6,604.3L520.9,607.4L519.5,605.8L517.1,602.8L513.5,602.0L514.2,598.2L514.9,592.2L516.4,586.8L517.4,583.0L516.0,579.2" fill="none" stroke="#404040" stroke-width="0.4" stroke-linejoin="round"/>
<path d="M518.1,557.7L524.4,556.2L528.0,553.2L536.4,551.7L540.0,550.9L542.8,545.6L541.4,543.3" fill="none" stroke="#404040" stroke-width="0.4" stroke-linejoin="round"/>
<path d="M528.0,553.2L525.8,558.5L523.7,562.3L528.0,566.1L535.0,566.9L537.1,558.5L545.6,557.0L550.5,562.3L549.1,563.8L544.9,566.1L535.0,566.9" fill="none" stroke="#404040" stroke-width="0.4" stroke-linejoin="round"/>
<path d="M500.4,566.1L504.0,573.0L508.9,576.0L515.3,570.7L518.1,568.4L516.7,566.1L523.7,562.3" fill="none" stroke="#404040" stroke-width="0.4" stroke-linejoin="round"/>
<path d="M518.1,568.4L521.6,570.7L525.8,573.0L532.2,572.2L537.8,569.9L542.8,566.1L544.9,566.1" fill="none" stroke="#404040" stroke-width="0.4" stroke-linejoin="round"/>
<path d="M549.1,563.8L554.1,569.1" fill="none" stroke="#404040" stroke-width="0.4" stroke-linejoin="round"/>
<path d="M545.6,557.0L546.3,551.7L550.5,549.4L554.8,547.1L554.1,543.3" fill="none" stroke="#404040" stroke-width="0.4" stroke-linejoin="round"/>
<path d="M550.5,562.3L555.5,559.3L560.4,560.0L561.8,563.8" fill="none" stroke="#404040" stroke-width="0.4" stroke-linejoin="round"/>
<path d="M554.8,547.1L561.8,550.9L562.5,554.7L567.5,553.2L571.0,558.5" fill="none" stroke="#404040" stroke-width="0.4" stroke-linejoin="round"/>
<path d="M508.9,576.0L502.6,579.0L499.0,582.1L495.5,583.6L493.4,588.9L489.9,590.4" fill="none" stroke="#404040" stroke-width="0.4" stroke-linejoin="round"/>
<path d="M525.8,573.0L526.5,577.5L530.8,579.8L533.6,578.3L537.8,569.9" fill="none" stroke="#404040" stroke-width="0.4" stroke-linejoin="round"/>
<path d="M533.6,578.3L532.9,584.4L543.5,582.1L551.9,579.8L557.6,579.8" fill="none" stroke="#404040" stroke-width="0.4" stroke-linejoin="round"/>
<path d="M532.2,594.2L539.2,595.8L544.2,598.8" fill="none" stroke="#404040" stroke-width="0.4" stroke-linejoin="round"/>
<path d="M514.6,601.9L506.8,600.3L500.4,598.8L499.0,595.0L495.5,595.8L489.9,598.1" fill="none" stroke="#404040" stroke-width="0.4" stroke-linejoin="round"/>
<path d="M516.0,588.9L508.2,588.9L498.3,589.7L493.4,588.9" fill="none" stroke="#404040" stroke-width="0.4" stroke-linejoin="round"/>
<path d="M499.0,582.1L500.4,587.4L498.3,589.7" fill="none" stroke="#404040" stroke-width="0.4" stroke-linejoin="round"/>
<path d="M514.6,601.9L509.6,604.1L506.8,607.2L502.6,611.0L498.3,612.5L499.0,616.3L501.1,622.4L502.6,626.6" fill="none" stroke="#404040" stroke-width="0.4" stroke-linejoin="round"/>
<path d="M498.3,612.5L492.7,614.0L489.9,613.3" fill="none" stroke="#404040" stroke-width="0.4" stroke-linejoin="round"/>
<path d="M520.2,607.9L517.4,611.7L516.0,614.8" fill="none" stroke="#404040" stroke-width="0.4" stroke-linejoin="round"/>
<path d="M524.4,601.9L530.8,601.9L535.0,604.1L538.5,608.7" fill="none" stroke="#404040" stroke-width="0.4" stroke-linejoin="round"/>
<path d="M576.5,521.3L577.1,526.8L578.5,531.6" fill="none" stroke="#404040" stroke-width="0.4" stroke-linejoin="round"/>
<path d="M584.2,515.8L583.6,522.4L585.3,530.1" fill="none" stroke="#404040" stroke-width="0.4" stroke-linejoin="round"/>
<path d="M588.9,513.6L589.3,521.3L588.3,527.9" fill="none" stroke="#404040" stroke-width="0.4" stroke-linejoin="round"/>
<path d="M440.9,543.6L446.3,546.7L449.3,547.3" fill="none" stroke="#404040" stroke-width="0.4" stroke-linejoin="round"/>
<path d="M423.1,569.6L422.6,573.9L415.2,577.1" fill="none" stroke="#404040" stroke-width="0.4" stroke-linejoin="round"/>
<path d="M446.8,563.3L446.3,569.6L445.8,573.9L441.9,575.0" fill="none" stroke="#404040" stroke-width="0.4" stroke-linejoin="round"/>
<path d="M449.3,571.8L456.2,570.7L462.1,569.6" fill="none" stroke="#404040" stroke-width="0.4" stroke-linejoin="round"/>
<path d="M449.3,571.8L451.3,579.2" fill="none" stroke="#404040" stroke-width="0.4" stroke-linejoin="round"/>
<path d="M542.1,459.6L545.0,464.9L549.2,468.8L552.7,471.0L558.4,471.8L565.4,471.0L571.8,473.3L573.2,480.2L579.5,483.2" fill="none" stroke="#404040" stroke-width="0.4" stroke-linejoin="round"/>
<path d="M549.2,468.8L547.8,474.1L544.3,477.1" fill="none" stroke="#404040" stroke-width="0.4" stroke-linejoin="round"/>
<path d="M547.8,486.2L549.2,491.6L552.7,493.1L559.8,494.6L565.4,491.6L564.7,487.8" fill="none" stroke="#404040" stroke-width="0.4" stroke-linejoin="round"/>
<path d="M549.2,491.6L542.8,494.6L538.6,496.9" fill="none" stroke="#404040" stroke-width="0.4" stroke-linejoin="round"/>
<path d="M565.4,491.6L571.8,489.3" fill="none" stroke="#404040" stroke-width="0.4" stroke-linejoin="round"/>
<path d="M622.6,480.3L617.0,482.6L612.0,484.8L609.2,490.2L607.1,490.9" fill="none" stroke="#404040" stroke-width="0.4" stroke-linejoin="round"/>
<path d="M601.4,497.0L609.9,494.0L619.1,492.4L621.9,494.7L621.9,500.8L636.0,499.3" fill="none" stroke="#404040" stroke-width="0.4" stroke-linejoin="round"/>
<path d="M604.3,504.6L614.1,502.3L621.9,500.8" fill="none" stroke="#404040" stroke-width="0.4" stroke-linejoin="round"/>
<path d="M375.8,539.4L379.5,537.2L385.3,536.4L389.7,537.2L391.9,535.7L393.4,537.9L392.6,540.1L390.4,542.3L386.8,543.0L384.6,545.2L379.5,545.2L376.6,546.7L375.8,543.7L377.3,541.5Z" fill="#f5b800" stroke="#6a5a18" stroke-width="0.4" stroke-linejoin="round"/>
<path d="M395.5,531.6L398.4,528.7L403.7,527.5L408.4,528.1L416.5,526.4L423.5,526.9L430.5,526.4L436.4,523.8L441.1,524.6L445.7,524.9L455.1,523.8L459.7,522.3L470.5,520.4L479.3,521.2L483.0,524.1L486.6,529.2L488.8,532.8L481.5,534.3L474.2,535.0L466.9,535.8L459.6,535.8L457.4,533.4L455.7,532.8L450.4,532.2L446.9,532.2L442.2,534.5L436.4,535.1L433.5,535.1L431.7,536.9L427.6,538.0L425.9,536.9L423.5,536.3L422.4,539.2L420.6,541.5L418.3,543.3L416.5,546.8L410.7,546.2L410.1,542.7L410.7,539.2L411.9,536.3L410.1,533.4L406.0,531.6L404.3,533.9L400.8,535.1L400.2,538.6L398.4,538.0L399.0,535.1L396.7,534.5Z" fill="#f5f500" stroke="#6a5a18" stroke-width="0.4" stroke-linejoin="round"/>
<path d="M433.5,535.1L436.4,535.1L442.2,534.5L446.9,532.2L450.4,532.2L455.7,532.8L456.8,534.5L453.9,536.9L450.4,538.6L446.9,540.9L443.4,542.7L438.7,543.9L435.2,545.0L432.3,545.0L433.5,541.5L434.1,538.6L432.9,536.9Z" fill="#f5b800" stroke="#6a5a18" stroke-width="0.4" stroke-linejoin="round"/>
<path d="M390.3,567.8L393.2,564.9L396.7,562.6L399.6,560.2L402.5,557.9L406.6,557.3L408.4,560.2L411.3,559.6L414.2,557.3L418.9,556.7L421.8,555.0L423.5,552.6L425.3,550.3L424.1,548.0L428.2,546.2L435.2,545.0L438.7,544.5L443.4,543.9L448.1,545.6L448.6,548.5L452.7,550.3L448.6,552.0L449.2,556.7L448.6,561.4L448.1,563.7L452.7,561.4L458.6,560.5L461.5,562.0L464.4,564.9L462.5,562.8L468.4,566.4L464.7,568.6L458.1,570.1L450.8,571.5L449.4,574.5L450.4,573.6L451.6,577.2L448.6,578.9L444.6,577.7L441.6,577.2L437.6,578.3L431.7,578.3L425.9,578.9L420.0,578.3L415.4,577.2L408.4,577.7L401.4,577.7L398.4,576.0L396.7,573.6L392.6,572.5L390.3,570.1Z" fill="#f5f500" stroke="#6a5a18" stroke-width="0.4" stroke-linejoin="round"/>
<path d="M425.9,551.5L428.8,550.3L430.5,552.0L429.4,554.4L426.5,555.0Z" fill="#ffffff" stroke="#404040" stroke-width="0.4" stroke-linejoin="round"/>
<path d="M476.4,544.5L480.0,542.3L480.8,540.1L485.1,538.7L488.8,537.2L485.9,535.8L491.7,535.0L495.4,534.3L503.4,534.3L510.7,533.6L514.3,534.3L517.3,537.2L520.2,540.1L519.5,545.3L517.3,549.6L516.5,553.3L512.2,556.9L507.8,559.9L503.4,562.8L496.8,566.4L492.4,565.7L490.3,562.0L493.2,559.9L491.7,556.2L488.8,552.6L485.1,549.6L481.5,546.7Z" fill="#f5f500" stroke="#6a5a18" stroke-width="0.4" stroke-linejoin="round"/>
<path d="M549.9,514.3L552.8,509.9L558.0,506.3L563.8,502.6L569.6,500.4L575.5,499.0L579.9,500.4L580.6,503.4L577.7,505.5L578.4,508.5L584.2,508.5L587.2,510.7L586.4,516.5L582.8,515.0L578.4,514.3L574.0,516.5L569.6,515.0L565.3,515.8L561.6,516.5L558.7,515.0L556.5,512.8L553.6,513.6Z" fill="#f5f500" stroke="#6a5a18" stroke-width="0.4" stroke-linejoin="round"/>
<path d="M542.6,522.3L547.0,519.4L550.7,515.8L554.3,512.8L557.2,514.3L558.7,516.5L558.0,520.1L560.9,523.1L563.8,521.6L565.3,522.3L562.3,524.5L558.7,525.3L556.5,528.2L552.1,529.3L548.5,528.9L545.5,525.3Z" fill="#f5b800" stroke="#6a5a18" stroke-width="0.4" stroke-linejoin="round"/>
<path d="M538.2,539.1L541.9,534.7L545.5,531.8L549.2,530.4L555.0,528.9L557.2,530.4L556.5,534.0L555.0,538.4L552.8,542.0L549.9,544.2L547.0,545.7L544.8,543.5L541.9,545.0L540.4,542.0Z" fill="#f5f500" stroke="#6a5a18" stroke-width="0.4" stroke-linejoin="round"/>
<path d="M550.4,555.5L553.3,553.4L557.7,551.9L562.0,551.9L563.5,554.1L567.2,555.5L569.3,558.5L567.9,562.1L562.8,565.0L561.3,561.4L558.4,559.2L554.7,559.9L551.8,558.5Z" fill="#f53d00" stroke="#6a5a18" stroke-width="0.4" stroke-linejoin="round"/>
<path d="M534.3,566.5L535.0,562.1L538.0,559.2L543.1,557.4L546.7,557.7L548.9,559.9L548.2,562.8L543.8,564.3L541.6,566.5L537.2,567.7Z" fill="#f57a00" stroke="#6a5a18" stroke-width="0.4" stroke-linejoin="round"/>
<path d="M549.6,562.8L552.6,559.9L554.7,559.9L558.4,559.2L561.3,561.4L560.6,565.8L557.7,568.2L552.6,569.1L549.6,567.2Z" fill="#f57a00" stroke="#6a5a18" stroke-width="0.4" stroke-linejoin="round"/>
<path d="M469.1,625.0L486.6,625.0L486.6,639.6L473.8,640.4L468.2,636.7Z" fill="#f53d00" stroke="#6a5a18" stroke-width="0.4" stroke-linejoin="round"/>
<path d="M444.6,603.9L448.2,602.4L449.0,598.8L451.2,600.2L451.9,604.6L450.4,608.2L454.1,607.5L454.8,611.9L454.1,617.7L452.6,622.8L451.2,625.0L449.0,621.4L448.2,617.7L446.1,615.5L448.2,611.9L449.0,608.2L446.1,606.8Z" fill="#f5b800" stroke="#6a5a18" stroke-width="0.4" stroke-linejoin="round"/>
<path d="M454.8,608.2L459.2,607.5L462.1,610.4L465.0,613.4L467.2,614.8L468.7,619.2L469.4,626.5L468.7,633.8L467.2,635.3L461.4,634.5L458.5,638.2L456.3,633.8L454.8,626.5L454.1,617.7L454.8,611.9Z" fill="#f53d00" stroke="#6a5a18" stroke-width="0.4" stroke-linejoin="round"/>
<path d="M464.3,609.0L468.0,606.1L471.6,602.4L473.8,599.5L475.3,603.1L478.9,604.6L478.2,609.0L477.4,613.4L475.3,618.5L472.3,619.2L468.7,618.5L467.2,614.1L465.0,612.6Z" fill="#f5f500" stroke="#6a5a18" stroke-width="0.4" stroke-linejoin="round"/>
<path d="M478.9,604.6L479.6,602.8L484.7,603.1L484.0,607.5L484.7,611.9L491.3,613.4L490.6,617.7L487.7,621.4L485.5,625.8L486.2,632.3L481.1,630.9L477.4,633.1L476.7,636.7L473.1,637.4L469.4,633.8L469.4,626.5L468.7,619.2L472.3,619.2L475.3,618.5L477.4,613.4L478.2,609.0Z" fill="#f50000" stroke="#6a5a18" stroke-width="0.4" stroke-linejoin="round"/>
<path d="M491.3,613.4L494.2,613.1L497.2,614.8L500.1,620.7L501.5,626.5L500.1,632.3L499.3,638.2L498.6,643.3L495.0,646.9L492.0,645.5L491.3,641.8L486.2,638.9L485.5,635.3L486.2,632.3L485.5,625.8L487.7,621.4L490.6,617.7Z" fill="#f57a00" stroke="#6a5a18" stroke-width="0.4" stroke-linejoin="round"/>
<path d="M456.3,639.6L458.5,638.2L461.4,634.5L467.2,635.3L469.4,633.8L473.1,637.4L472.3,639.6L476.7,638.9L480.4,641.1L484.7,643.3L489.9,646.9L489.1,651.3L486.2,654.2L481.1,655.0L480.4,660.1L478.2,658.6L473.8,662.3L470.9,658.6L467.2,655.7L463.6,654.2L461.4,650.6L457.7,647.7L457.0,643.3Z" fill="#f53d00" stroke="#6a5a18" stroke-width="0.4" stroke-linejoin="round"/>
<path d="M476.7,636.7L477.4,633.1L481.1,630.9L486.2,632.3L485.5,635.3L486.2,638.9L491.3,641.8L491.3,645.2L489.1,646.2L484.7,643.3L480.4,641.1L476.7,638.9Z" fill="#f53d00" stroke="#6a5a18" stroke-width="0.4" stroke-linejoin="round"/>
<path d="M463.6,654.8L467.2,656.3L470.9,658.5L473.8,662.1L478.2,658.5L480.4,659.9L481.1,654.8L486.2,653.4L488.4,657.7L487.7,661.4L490.6,664.3L492.0,669.4L489.9,672.3L486.2,673.1L484.0,676.0L481.1,678.2L478.2,676.7L476.0,672.3L471.6,673.8L470.1,677.4L467.2,678.2L465.8,673.8L465.0,666.5L464.3,660.7Z" fill="#f5b800" stroke="#6a5a18" stroke-width="0.4" stroke-linejoin="round"/>
<path d="M430.5,526.4L431.1,531.0L432.3,535.1" fill="none" stroke="#6a5a18" stroke-width="0.4" stroke-linejoin="round"/>
<path d="M455.1,523.8L455.7,528.7L457.4,533.4" fill="none" stroke="#6a5a18" stroke-width="0.4" stroke-linejoin="round"/>
<path d="M410.1,533.4L415.4,535.1L422.4,534.5L423.5,536.3" fill="none" stroke="#6a5a18" stroke-width="0.4" stroke-linejoin="round"/>
<path d="M396.7,573.6L402.5,573.1L405.4,570.1L410.1,569.6L414.2,570.1L422.4,568.4L423.0,573.1L420.0,575.4L415.4,577.2" fill="none" stroke="#6a5a18" stroke-width="0.4" stroke-linejoin="round"/>
<path d="M422.4,568.4L427.0,566.1L432.9,563.7L434.1,561.4L432.3,558.5L425.3,558.5L418.9,557.3" fill="none" stroke="#6a5a18" stroke-width="0.4" stroke-linejoin="round"/>
<path d="M432.9,563.7L439.9,563.7L446.3,563.5L448.6,561.4" fill="none" stroke="#6a5a18" stroke-width="0.4" stroke-linejoin="round"/>
<path d="M446.3,563.5L445.7,569.6L445.7,573.6L441.6,577.2" fill="none" stroke="#6a5a18" stroke-width="0.4" stroke-linejoin="round"/>
<path d="M434.1,561.4L431.7,555.0L430.5,552.0" fill="none" stroke="#6a5a18" stroke-width="0.4" stroke-linejoin="round"/>
<path d="M435.2,549.7L436.4,550.3L443.4,550.3L448.6,552.0" fill="none" stroke="#6a5a18" stroke-width="0.4" stroke-linejoin="round"/>
<path d="M480.4,659.9L481.8,665.0L476.7,668.7L478.2,676.7" fill="none" stroke="#6a5a18" stroke-width="0.4" stroke-linejoin="round"/>
<path d="M481.8,665.0L484.7,662.8L487.7,661.4" fill="none" stroke="#6a5a18" stroke-width="0.4" stroke-linejoin="round"/>
<path d="M513.5,602.0L516.7,602.4L518.5,604.3L520.9,606.2L521.3,608.1" fill="none" stroke="#1a1a1a" stroke-width="0.6" stroke-linejoin="round"/>
<path d="M520.2,598.2L521.6,596.0L520.6,595.2L518.5,593.7L519.5,592.5L521.6,593.7L522.0,595.6" fill="none" stroke="#1a1a1a" stroke-width="0.6" stroke-linejoin="round"/>
<path d="M524.8,600.9L526.9,600.1L529.1,598.2L530.8,597.1L530.6,593.3" fill="none" stroke="#1a1a1a" stroke-width="0.6" stroke-linejoin="round"/>
<path d="M517.1,602.8L519.2,599.8L520.2,598.2" fill="none" stroke="#1a1a1a" stroke-width="0.6" stroke-linejoin="round"/>
<path d="M518.1,588.4L519.5,585.7L521.6,584.6L522.4,587.2" fill="none" stroke="#1a1a1a" stroke-width="0.6" stroke-linejoin="round"/>
<path d="M518.1,588.4L517.4,592.2L518.5,593.7" fill="none" stroke="#1a1a1a" stroke-width="0.6" stroke-linejoin="round"/>
<path d="M522.4,587.2L524.5,585.7L526.6,584.6L526.9,582.3L528.0,584.6L529.1,586.8L531.2,586.1" fill="none" stroke="#1a1a1a" stroke-width="0.6" stroke-linejoin="round"/>
</g>
<rect x="237.6" y="617.9" width="30.5" height="10.1" fill="#f5f500" stroke="#9a9a9a" stroke-width="0.5"/>
<text transform="translate(273.7,626.4) scale(1.255,1)" font-size="8.65" fill="#000" stroke="#000" stroke-width="0.08">2 - 233</text>
<rect x="237.6" y="631.9" width="30.5" height="10.1" fill="#f5b800" stroke="#9a9a9a" stroke-width="0.5"/>
<text transform="translate(273.7,640.4) scale(1.255,1)" font-size="8.65" fill="#000" stroke="#000" stroke-width="0.08">234 - 729</text>
<rect x="237.6" y="645.9" width="30.5" height="10.1" fill="#f57a00" stroke="#9a9a9a" stroke-width="0.5"/>
<text transform="translate(273.7,654.4) scale(1.255,1)" font-size="8.65" fill="#000" stroke="#000" stroke-width="0.08">730 - 1942</text>
<rect x="237.6" y="660.3" width="30.5" height="10.1" fill="#f53d00" stroke="#9a9a9a" stroke-width="0.5"/>
<text transform="translate(273.7,668.8) scale(1.255,1)" font-size="8.65" fill="#000" stroke="#000" stroke-width="0.08">1943 - 4369</text>
<rect x="237.6" y="674.3" width="30.5" height="10.1" fill="#f50000" stroke="#9a9a9a" stroke-width="0.5"/>
<text transform="translate(273.7,682.8) scale(1.255,1)" font-size="8.65" fill="#000" stroke="#000" stroke-width="0.08">4370 - 23990</text>
<rect x="591.5" y="618.4" width="30.5" height="10.1" fill="#f5f500" stroke="#9a9a9a" stroke-width="0.5"/>
<text transform="translate(628.3,626.5) scale(1.255,1)" font-size="8.65" fill="#000" stroke="#000" stroke-width="0.08">1 - 118</text>
<rect x="591.5" y="632.6" width="30.5" height="10.1" fill="#f5b800" stroke="#9a9a9a" stroke-width="0.5"/>
<text transform="translate(628.3,640.7) scale(1.255,1)" font-size="8.65" fill="#000" stroke="#000" stroke-width="0.08">119 - 285</text>
<rect x="591.5" y="646.4" width="30.5" height="10.1" fill="#f57a00" stroke="#9a9a9a" stroke-width="0.5"/>
<text transform="translate(628.3,654.5) scale(1.255,1)" font-size="8.65" fill="#000" stroke="#000" stroke-width="0.08">286 - 838</text>
<rect x="591.5" y="660.4" width="30.5" height="10.1" fill="#f53d00" stroke="#9a9a9a" stroke-width="0.5"/>
<text transform="translate(628.3,668.5) scale(1.255,1)" font-size="8.65" fill="#000" stroke="#000" stroke-width="0.08">839 - 2337</text>
<rect x="591.5" y="674.2" width="30.5" height="10.1" fill="#f50000" stroke="#9a9a9a" stroke-width="0.5"/>
<text transform="translate(628.3,682.3) scale(1.255,1)" font-size="8.65" fill="#000" stroke="#000" stroke-width="0.08">2338 - 7831</text>
<text transform="translate(133.6,698) scale(0.925,1)" font-size="14.3" text-anchor="middle" fill="#000">2020</text>
<text transform="translate(472,698) scale(0.925,1)" font-size="14.3" text-anchor="middle" fill="#000">2021</text>
</svg>
</body></html>
